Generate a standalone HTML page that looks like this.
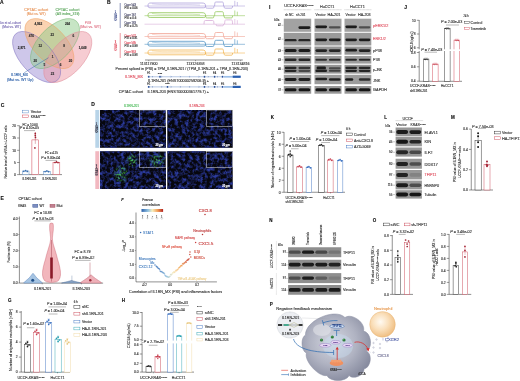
<!DOCTYPE html>
<html><head><meta charset="utf-8"><style>
html,body{margin:0;padding:0;background:#fff;}
svg{display:block;font-family:"Liberation Sans", Arial, sans-serif;}
</style></head><body>
<svg width="520" height="381" viewBox="0 0 520 381">
<rect width="520" height="381" fill="#fff"/>
<defs>
<filter id="bl" x="-20%" y="-50%" width="140%" height="200%"><feGaussianBlur stdDeviation="0.6"/></filter>
<filter id="bl2" x="-20%" y="-80%" width="140%" height="260%"><feGaussianBlur stdDeviation="0.5"/></filter>
<filter id="noiseB" x="0" y="0" width="100%" height="100%" color-interpolation-filters="sRGB">
  <feTurbulence type="fractalNoise" baseFrequency="0.28" numOctaves="3" seed="5" result="n"/>
  <feColorMatrix in="n" type="matrix" values="0 0 0 0 0.17  0 0 0 0 0.23  0 0 0 0 0.62  2.8 0 0 0 -1.12" result="c0"/><feGaussianBlur in="c0" stdDeviation="0.3" result="c"/>
  <feComposite in="c" in2="SourceGraphic" operator="in"/>
</filter>
<filter id="noiseB2" x="0" y="0" width="100%" height="100%" color-interpolation-filters="sRGB">
  <feTurbulence type="fractalNoise" baseFrequency="0.28" numOctaves="3" seed="12" result="n"/>
  <feColorMatrix in="n" type="matrix" values="0 0 0 0 0.17  0 0 0 0 0.23  0 0 0 0 0.62  2.8 0 0 0 -1.12" result="c0"/><feGaussianBlur in="c0" stdDeviation="0.3" result="c"/>
  <feComposite in="c" in2="SourceGraphic" operator="in"/>
</filter>
<filter id="noiseG" x="0" y="0" width="100%" height="100%" color-interpolation-filters="sRGB">
  <feTurbulence type="fractalNoise" baseFrequency="0.5" numOctaves="2" seed="7" result="n"/>
  <feColorMatrix in="n" type="matrix" values="0 0 0 0 0.35  0 0 0 0 0.90  0 0 0 0 0.40  4 0 0 0 -1.7" result="c"/>
  <feComposite in="c" in2="SourceGraphic" operator="in"/>
</filter>
<radialGradient id="gmask"><stop offset="0" stop-color="#fff" stop-opacity="1"/><stop offset="0.6" stop-color="#fff" stop-opacity="0.7"/><stop offset="1" stop-color="#fff" stop-opacity="0"/></radialGradient>
<linearGradient id="cb" x1="0" x2="1" y1="0" y2="0">
<stop offset="0" stop-color="#2b5fa8"/><stop offset="0.3" stop-color="#8fc0e0"/><stop offset="0.5" stop-color="#f7f0c0"/><stop offset="0.75" stop-color="#f29a50"/><stop offset="1" stop-color="#b02020"/>
</linearGradient>
<radialGradient id="neu" cx="0.42" cy="0.4" r="0.62"><stop offset="0" stop-color="#fffaf2"/><stop offset="0.5" stop-color="#fae0bc"/><stop offset="1" stop-color="#efbd80"/></radialGradient>
<radialGradient id="cell" cx="0.45" cy="0.42" r="0.62"><stop offset="0" stop-color="#d4d7e0"/><stop offset="0.55" stop-color="#b0b3c2"/><stop offset="1" stop-color="#868a9e"/></radialGradient>
</defs>

<text x="0.00" y="4.30" font-size="5" fill="#111" stroke="#111" stroke-width="0.12" font-weight="bold">A</text>
<ellipse cx="36.60" cy="57.00" rx="31.20" ry="16.00" fill="#9d8fd6" transform="rotate(48 36.60 57.00)" fill-opacity="0.5"/>
<ellipse cx="49.40" cy="43.60" rx="31.00" ry="16.30" fill="#f6a765" transform="rotate(46 49.40 43.60)" fill-opacity="0.5"/>
<ellipse cx="55.00" cy="43.60" rx="31.00" ry="16.30" fill="#8fcb8c" transform="rotate(-46 55.00 43.60)" fill-opacity="0.5"/>
<ellipse cx="67.80" cy="57.00" rx="31.20" ry="16.00" fill="#ee9aa6" transform="rotate(-48 67.80 57.00)" fill-opacity="0.5"/>
<ellipse cx="36.60" cy="57.00" rx="31.20" ry="16.00" fill="none" stroke="#7f70c0" stroke-width="0.5" transform="rotate(48 36.60 57.00)"/>
<ellipse cx="49.40" cy="43.60" rx="31.00" ry="16.30" fill="none" stroke="#f0a060" stroke-width="0.5" transform="rotate(46 49.40 43.60)"/>
<ellipse cx="55.00" cy="43.60" rx="31.00" ry="16.30" fill="none" stroke="#79b676" stroke-width="0.5" transform="rotate(-46 55.00 43.60)"/>
<ellipse cx="67.80" cy="57.00" rx="31.20" ry="16.00" fill="none" stroke="#e08b98" stroke-width="0.5" transform="rotate(-48 67.80 57.00)"/>
<text x="38.30" y="25.30" font-size="3.1" fill="#2a2a2a" stroke="#2a2a2a" stroke-width="0.12" text-anchor="middle" font-weight="bold">4,962</text>
<text x="67.50" y="24.90" font-size="3.1" fill="#2a2a2a" stroke="#2a2a2a" stroke-width="0.12" text-anchor="middle" font-weight="bold">264</text>
<text x="31.30" y="37.30" font-size="3.1" fill="#2a2a2a" stroke="#2a2a2a" stroke-width="0.12" text-anchor="middle" font-weight="bold">476</text>
<text x="52.20" y="35.70" font-size="3.1" fill="#2a2a2a" stroke="#2a2a2a" stroke-width="0.12" text-anchor="middle" font-weight="bold">23</text>
<text x="73.40" y="37.30" font-size="3.1" fill="#2a2a2a" stroke="#2a2a2a" stroke-width="0.12" text-anchor="middle" font-weight="bold">6</text>
<text x="21.70" y="49.10" font-size="3.1" fill="#2a2a2a" stroke="#2a2a2a" stroke-width="0.12" text-anchor="middle" font-weight="bold">2,871</text>
<text x="40.20" y="46.80" font-size="3.1" fill="#2a2a2a" stroke="#2a2a2a" stroke-width="0.12" text-anchor="middle" font-weight="bold">12</text>
<text x="64.20" y="47.30" font-size="3.1" fill="#2a2a2a" stroke="#2a2a2a" stroke-width="0.12" text-anchor="middle" font-weight="bold">8</text>
<text x="82.50" y="49.10" font-size="3.1" fill="#2a2a2a" stroke="#2a2a2a" stroke-width="0.12" text-anchor="middle" font-weight="bold">1,649</text>
<text x="52.60" y="57.60" font-size="3.1" fill="#2a2a2a" stroke="#2a2a2a" stroke-width="0.12" text-anchor="middle" font-weight="bold">1</text>
<text x="35.20" y="62.30" font-size="3.1" fill="#2a2a2a" stroke="#2a2a2a" stroke-width="0.12" text-anchor="middle" font-weight="bold">20</text>
<text x="44.30" y="66.40" font-size="3.1" fill="#2a2a2a" stroke="#2a2a2a" stroke-width="0.12" text-anchor="middle" font-weight="bold">5</text>
<text x="60.50" y="66.40" font-size="3.1" fill="#2a2a2a" stroke="#2a2a2a" stroke-width="0.12" text-anchor="middle" font-weight="bold">6</text>
<text x="70.60" y="62.30" font-size="3.1" fill="#2a2a2a" stroke="#2a2a2a" stroke-width="0.12" text-anchor="middle" font-weight="bold">20</text>
<text x="52.60" y="75.00" font-size="3.1" fill="#2a2a2a" stroke="#2a2a2a" stroke-width="0.12" text-anchor="middle" font-weight="bold">23</text>
<text x="36.20" y="11.07" font-size="3.77" fill="#e8955a" stroke="#e8955a" stroke-width="0.12" text-anchor="middle" textLength="24" lengthAdjust="spacingAndGlyphs">CPTAC cohort</text>
<text x="36.20" y="14.61" font-size="3.32" fill="#e8955a" stroke="#e8955a" stroke-width="0.12" text-anchor="middle" textLength="19" lengthAdjust="spacingAndGlyphs">(Mut vs. WT)</text>
<text x="67.50" y="11.07" font-size="3.77" fill="#5fa860" stroke="#5fa860" stroke-width="0.12" text-anchor="middle" textLength="24" lengthAdjust="spacingAndGlyphs">CPTAC cohort</text>
<text x="67.50" y="14.66" font-size="3.48" fill="#5fa860" stroke="#5fa860" stroke-width="0.12" text-anchor="middle" textLength="24" lengthAdjust="spacingAndGlyphs">(AS index_319)</text>
<text x="10.40" y="24.12" font-size="3.07" fill="#7a6db5" stroke="#7a6db5" stroke-width="0.12" text-anchor="middle" textLength="21" lengthAdjust="spacingAndGlyphs">Lin et al. cohort</text>
<text x="11.50" y="27.67" font-size="3.23" fill="#7a6db5" stroke="#7a6db5" stroke-width="0.12" text-anchor="middle" textLength="18.5" lengthAdjust="spacingAndGlyphs">(Mut vs. WT)</text>
<text x="88.10" y="23.59" font-size="2.7" fill="#e0788a" stroke="#e0788a" stroke-width="0.12" text-anchor="middle" textLength="6" lengthAdjust="spacingAndGlyphs">POG</text>
<text x="90.60" y="27.83" font-size="3.67" fill="#e0788a" stroke="#e0788a" stroke-width="0.12" text-anchor="middle" textLength="21" lengthAdjust="spacingAndGlyphs">(Mut vs. WT)</text>
<text x="19.50" y="76.26" font-size="3.48" fill="#2b5fa8" stroke="#2b5fa8" stroke-width="0.12" text-anchor="middle" textLength="17" lengthAdjust="spacingAndGlyphs">IL1RN_MX</text>
<text x="20.20" y="80.53" font-size="3.65" fill="#2b5fa8" stroke="#2b5fa8" stroke-width="0.12" text-anchor="middle" textLength="26.5" lengthAdjust="spacingAndGlyphs">(Mut vs. WT Up)</text>
<line x1="24.20" y1="72.70" x2="48.50" y2="57.70" stroke="#2b5fa8" stroke-width="0.45"/>
<text x="107.00" y="3.60" font-size="5" fill="#111" stroke="#111" stroke-width="0.12" font-weight="bold">B</text>
<line x1="120.20" y1="3.00" x2="120.20" y2="28.00" stroke="#3a4a8a" stroke-width="0.6"/>
<line x1="120.20" y1="33.00" x2="120.20" y2="58.00" stroke="#e05060" stroke-width="0.6"/>
<text x="116.50" y="15.50" font-size="2.8" fill="#3a4a8a" stroke="#3a4a8a" stroke-width="0.12" text-anchor="middle" transform="rotate(-90 116.50 15.50)">KRAS<tspan font-size="2" dy="-1">WT</tspan></text>
<text x="116.50" y="45.50" font-size="2.8" fill="#e05060" stroke="#e05060" stroke-width="0.12" text-anchor="middle" transform="rotate(-90 116.50 45.50)">KRAS<tspan font-size="2" dy="-1">Mut</tspan></text>
<text x="124.40" y="6.10" font-size="2.71" fill="#4a4a6a" stroke="#4a4a6a" stroke-width="0.12" textLength="11.6" lengthAdjust="spacingAndGlyphs">Case 543</text>
<text x="124.40" y="8.95" font-size="2.83" fill="#333" stroke="#333" stroke-width="0.12" textLength="13.3" lengthAdjust="spacingAndGlyphs">PSI = 0.06</text>
<line x1="144.50" y1="6.00" x2="245.00" y2="6.00" stroke="#a99bd9" stroke-width="0.55"/>
<path d="M148,6.0 C148,3.0 149,3.0 152,3.0 L202,3.0 C205,3.0 205.5,4.0 205.5,6.0 C205.5,7.8 205,7.8 202,7.8 L152,7.8 C149,7.8 148,7.8 148,6.0 Z" fill="none" stroke="#a99bd9" stroke-width="0.75"/>
<path d="M152,3.8 C165,5.8 180,3.5 200,5.0" fill="none" stroke="#a99bd9" stroke-width="0.4"/>
<path d="M205.6,6.0 C205.9,8.2 205.9,8.2 207.4,8.2 L212.2,8.2 C213.7,8.2 213.7,8.2 214,6.0" fill="none" stroke="#a99bd9" stroke-width="0.75"/>
<path d="M214.6,6.0 C214.9,2.0 214.9,2.0 216.4,2.0 L221.79999999999998,2.0 C223.29999999999998,2.0 223.29999999999998,2.0 223.6,6.0" fill="none" stroke="#a99bd9" stroke-width="0.75"/>
<path d="M224,6.0 C224.3,8.2 224.3,8.2 225.8,8.2 L230.79999999999998,8.2 C232.29999999999998,8.2 232.29999999999998,8.2 232.6,6.0" fill="none" stroke="#a99bd9" stroke-width="0.75"/>
<line x1="234.80" y1="6.00" x2="234.80" y2="0.80" stroke="#a99bd9" stroke-width="0.6"/>
<line x1="237.30" y1="6.00" x2="237.30" y2="2.00" stroke="#a99bd9" stroke-width="0.6"/>
<text x="124.40" y="15.80" font-size="2.71" fill="#4a4a6a" stroke="#4a4a6a" stroke-width="0.12" textLength="11.6" lengthAdjust="spacingAndGlyphs">Case 167</text>
<text x="124.40" y="18.67" font-size="2.9" fill="#333" stroke="#333" stroke-width="0.12" textLength="12" lengthAdjust="spacingAndGlyphs">PSI = 0.6</text>
<line x1="144.50" y1="15.70" x2="245.00" y2="15.70" stroke="#8cc450" stroke-width="0.55"/>
<path d="M148,15.7 C148,12.7 149,12.7 152,12.7 L202,12.7 C205,12.7 205.5,13.7 205.5,15.7 C205.5,17.5 205,17.5 202,17.5 L152,17.5 C149,17.5 148,17.5 148,15.7 Z" fill="none" stroke="#8cc450" stroke-width="0.75"/>
<path d="M152,13.5 C165,15.5 180,13.2 200,14.7" fill="none" stroke="#8cc450" stroke-width="0.4"/>
<path d="M205.6,15.7 C205.9,17.9 205.9,17.9 207.4,17.9 L212.2,17.9 C213.7,17.9 213.7,17.9 214,15.7" fill="none" stroke="#8cc450" stroke-width="0.75"/>
<path d="M214.6,15.7 C214.9,11.7 214.9,11.7 216.4,11.7 L221.79999999999998,11.7 C223.29999999999998,11.7 223.29999999999998,11.7 223.6,15.7" fill="none" stroke="#8cc450" stroke-width="0.75"/>
<path d="M224,15.7 C224.3,17.9 224.3,17.9 225.8,17.9 L230.79999999999998,17.9 C232.29999999999998,17.9 232.29999999999998,17.9 232.6,15.7" fill="none" stroke="#8cc450" stroke-width="0.75"/>
<line x1="234.80" y1="15.70" x2="234.80" y2="10.50" stroke="#8cc450" stroke-width="0.6"/>
<line x1="237.30" y1="15.70" x2="237.30" y2="11.70" stroke="#8cc450" stroke-width="0.6"/>
<text x="124.40" y="24.30" font-size="2.71" fill="#4a4a6a" stroke="#4a4a6a" stroke-width="0.12" textLength="11.6" lengthAdjust="spacingAndGlyphs">Case 183</text>
<text x="124.40" y="27.15" font-size="2.83" fill="#333" stroke="#333" stroke-width="0.12" textLength="13.3" lengthAdjust="spacingAndGlyphs">PSI = 0.25</text>
<line x1="144.50" y1="24.20" x2="245.00" y2="24.20" stroke="#d6a8d6" stroke-width="0.55"/>
<path d="M204,24.2 C204.3,20.5 204.3,20.5 205.8,20.5 L212.2,20.5 C213.7,20.5 213.7,20.5 214,24.2" fill="none" stroke="#d6a8d6" stroke-width="0.75"/>
<path d="M216,24.2 C216.3,25.8 216.3,25.8 217.8,25.8 L221.79999999999998,25.8 C223.29999999999998,25.8 223.29999999999998,25.8 223.6,24.2" fill="none" stroke="#d6a8d6" stroke-width="0.75"/>
<path d="M224.6,24.2 C224.9,19.9 224.9,19.9 226.4,19.9 L230.79999999999998,19.9 C232.29999999999998,19.9 232.29999999999998,19.9 232.6,24.2" fill="none" stroke="#d6a8d6" stroke-width="0.75"/>
<line x1="234.80" y1="24.20" x2="234.80" y2="19.00" stroke="#d6a8d6" stroke-width="0.6"/>
<line x1="237.30" y1="24.20" x2="237.30" y2="20.20" stroke="#d6a8d6" stroke-width="0.6"/>
<text x="124.40" y="36.60" font-size="2.71" fill="#e05060" stroke="#e05060" stroke-width="0.12" textLength="11.6" lengthAdjust="spacingAndGlyphs">Case 531</text>
<text x="124.40" y="39.45" font-size="2.83" fill="#333" stroke="#333" stroke-width="0.12" textLength="13.3" lengthAdjust="spacingAndGlyphs">PSI = 0.91</text>
<line x1="144.50" y1="36.50" x2="245.00" y2="36.50" stroke="#f0a090" stroke-width="0.55"/>
<path d="M148,36.5 C148,33.5 149,33.5 152,33.5 L202,33.5 C205,33.5 205.5,34.5 205.5,36.5 C205.5,38.3 205,38.3 202,38.3 L152,38.3 C149,38.3 148,38.3 148,36.5 Z" fill="none" stroke="#f0a090" stroke-width="0.75"/>
<path d="M152,34.3 C165,36.3 180,34.0 200,35.5" fill="none" stroke="#f0a090" stroke-width="0.4"/>
<path d="M205.6,36.5 C205.9,38.7 205.9,38.7 207.4,38.7 L212.2,38.7 C213.7,38.7 213.7,38.7 214,36.5" fill="none" stroke="#f0a090" stroke-width="0.75"/>
<path d="M214.6,36.5 C214.9,32.5 214.9,32.5 216.4,32.5 L221.79999999999998,32.5 C223.29999999999998,32.5 223.29999999999998,32.5 223.6,36.5" fill="none" stroke="#f0a090" stroke-width="0.75"/>
<path d="M224,36.5 C224.3,38.7 224.3,38.7 225.8,38.7 L230.79999999999998,38.7 C232.29999999999998,38.7 232.29999999999998,38.7 232.6,36.5" fill="none" stroke="#f0a090" stroke-width="0.75"/>
<line x1="234.80" y1="36.50" x2="234.80" y2="31.30" stroke="#f0a090" stroke-width="0.6"/>
<line x1="237.30" y1="36.50" x2="237.30" y2="32.50" stroke="#f0a090" stroke-width="0.6"/>
<text x="124.40" y="44.40" font-size="2.71" fill="#e05060" stroke="#e05060" stroke-width="0.12" textLength="11.6" lengthAdjust="spacingAndGlyphs">Case 595</text>
<text x="124.40" y="47.25" font-size="2.83" fill="#333" stroke="#333" stroke-width="0.12" textLength="13.3" lengthAdjust="spacingAndGlyphs">PSI = 0.99</text>
<line x1="144.50" y1="44.30" x2="245.00" y2="44.30" stroke="#4a8fc2" stroke-width="0.55"/>
<path d="M148,44.3 C148,41.3 149,41.3 152,41.3 L202,41.3 C205,41.3 205.5,42.3 205.5,44.3 C205.5,46.099999999999994 205,46.099999999999994 202,46.099999999999994 L152,46.099999999999994 C149,46.099999999999994 148,46.099999999999994 148,44.3 Z" fill="none" stroke="#4a8fc2" stroke-width="0.75"/>
<path d="M152,42.099999999999994 C165,44.099999999999994 180,41.8 200,43.3" fill="none" stroke="#4a8fc2" stroke-width="0.4"/>
<path d="M205.6,44.3 C205.9,46.5 205.9,46.5 207.4,46.5 L212.2,46.5 C213.7,46.5 213.7,46.5 214,44.3" fill="none" stroke="#4a8fc2" stroke-width="0.75"/>
<path d="M214.6,44.3 C214.9,40.3 214.9,40.3 216.4,40.3 L221.79999999999998,40.3 C223.29999999999998,40.3 223.29999999999998,40.3 223.6,44.3" fill="none" stroke="#4a8fc2" stroke-width="0.75"/>
<path d="M224,44.3 C224.3,46.5 224.3,46.5 225.8,46.5 L230.79999999999998,46.5 C232.29999999999998,46.5 232.29999999999998,46.5 232.6,44.3" fill="none" stroke="#4a8fc2" stroke-width="0.75"/>
<line x1="234.80" y1="44.30" x2="234.80" y2="39.10" stroke="#4a8fc2" stroke-width="0.6"/>
<line x1="237.30" y1="44.30" x2="237.30" y2="40.30" stroke="#4a8fc2" stroke-width="0.6"/>
<text x="124.40" y="53.10" font-size="2.71" fill="#e05060" stroke="#e05060" stroke-width="0.12" textLength="11.6" lengthAdjust="spacingAndGlyphs">Case 953</text>
<text x="124.40" y="55.95" font-size="2.83" fill="#333" stroke="#333" stroke-width="0.12" textLength="13.3" lengthAdjust="spacingAndGlyphs">PSI = 0.98</text>
<line x1="144.50" y1="53.00" x2="245.00" y2="53.00" stroke="#f2b248" stroke-width="0.55"/>
<path d="M148,53.0 C148,50.0 149,50.0 152,50.0 L202,50.0 C205,50.0 205.5,51.0 205.5,53.0 C205.5,54.8 205,54.8 202,54.8 L152,54.8 C149,54.8 148,54.8 148,53.0 Z" fill="none" stroke="#f2b248" stroke-width="0.75"/>
<path d="M152,50.8 C165,52.8 180,50.5 200,52.0" fill="none" stroke="#f2b248" stroke-width="0.4"/>
<path d="M205.6,53.0 C205.9,55.2 205.9,55.2 207.4,55.2 L212.2,55.2 C213.7,55.2 213.7,55.2 214,53.0" fill="none" stroke="#f2b248" stroke-width="0.75"/>
<path d="M214.6,53.0 C214.9,49.0 214.9,49.0 216.4,49.0 L221.79999999999998,49.0 C223.29999999999998,49.0 223.29999999999998,49.0 223.6,53.0" fill="none" stroke="#f2b248" stroke-width="0.75"/>
<path d="M224,53.0 C224.3,55.2 224.3,55.2 225.8,55.2 L230.79999999999998,55.2 C232.29999999999998,55.2 232.29999999999998,55.2 232.6,53.0" fill="none" stroke="#f2b248" stroke-width="0.75"/>
<line x1="234.80" y1="53.00" x2="234.80" y2="47.80" stroke="#f2b248" stroke-width="0.6"/>
<line x1="237.30" y1="53.00" x2="237.30" y2="49.00" stroke="#f2b248" stroke-width="0.6"/>
<line x1="145.00" y1="60.00" x2="242.80" y2="60.00" stroke="#444" stroke-width="0.6"/>
<line x1="148.75" y1="60.00" x2="148.75" y2="61.20" stroke="#333" stroke-width="0.4"/>
<line x1="195.50" y1="60.00" x2="195.50" y2="61.20" stroke="#333" stroke-width="0.4"/>
<line x1="240.60" y1="60.00" x2="240.60" y2="61.20" stroke="#333" stroke-width="0.4"/>
<text x="148.75" y="64.95" font-size="3.6" fill="#333" stroke="#333" stroke-width="0.12" text-anchor="middle" textLength="17.5" lengthAdjust="spacingAndGlyphs">113117900</text>
<text x="195.50" y="64.97" font-size="3.65" fill="#333" stroke="#333" stroke-width="0.12" text-anchor="middle" textLength="18" lengthAdjust="spacingAndGlyphs">113126358</text>
<text x="240.60" y="64.97" font-size="3.65" fill="#333" stroke="#333" stroke-width="0.12" text-anchor="middle" textLength="18" lengthAdjust="spacingAndGlyphs">113134816</text>
<text x="115.60" y="70.45" font-size="3.61" fill="#333" stroke="#333" stroke-width="0.12" textLength="132.3" lengthAdjust="spacingAndGlyphs">Percent spliced in (PSI) = TPM_IL1RN-201 / (TPM_IL1RN-201 + TPM_IL1RN-203)</text>
<line x1="147.50" y1="76.75" x2="240.70" y2="76.75" stroke="#7a9ad0" stroke-width="0.55"/>
<text x="148.75" y="74.40" font-size="2.62" fill="#333" stroke="#333" stroke-width="0.12" text-anchor="middle" textLength="3.2" lengthAdjust="spacingAndGlyphs">E1</text>
<text x="160.00" y="74.35" font-size="2.47" fill="#333" stroke="#333" stroke-width="0.12" text-anchor="middle" textLength="4.4" lengthAdjust="spacingAndGlyphs">E2a</text>
<text x="204.50" y="74.40" font-size="2.62" fill="#333" stroke="#333" stroke-width="0.12" text-anchor="middle" textLength="3.2" lengthAdjust="spacingAndGlyphs">E3</text>
<text x="214.60" y="74.40" font-size="2.62" fill="#333" stroke="#333" stroke-width="0.12" text-anchor="middle" textLength="3.2" lengthAdjust="spacingAndGlyphs">E4</text>
<text x="222.50" y="74.40" font-size="2.62" fill="#333" stroke="#333" stroke-width="0.12" text-anchor="middle" textLength="3.2" lengthAdjust="spacingAndGlyphs">E5</text>
<text x="234.80" y="74.40" font-size="2.62" fill="#333" stroke="#333" stroke-width="0.12" text-anchor="middle" textLength="3.2" lengthAdjust="spacingAndGlyphs">E6</text>
<rect x="148.05" y="75.85" width="1.40" height="1.80" fill="#2a4f9a"/>
<rect x="159.30" y="75.85" width="1.40" height="1.80" fill="#2a4f9a"/>
<rect x="203.80" y="75.85" width="1.40" height="1.80" fill="#2a4f9a"/>
<rect x="213.90" y="75.85" width="1.40" height="1.80" fill="#2a4f9a"/>
<rect x="221.80" y="75.85" width="1.40" height="1.80" fill="#2a4f9a"/>
<rect x="224.00" y="75.95" width="8.70" height="1.60" fill="#9cc0ea"/>
<rect x="232.70" y="75.65" width="8.00" height="2.20" fill="#2a5fb0"/>
<path d="M152.0,76.15 l0.9,0.6 l-0.9,0.6" fill="none" stroke="#2a4f9a" stroke-width="0.3"/>
<path d="M161.3,76.15 l0.9,0.6 l-0.9,0.6" fill="none" stroke="#2a4f9a" stroke-width="0.3"/>
<path d="M170.6,76.15 l0.9,0.6 l-0.9,0.6" fill="none" stroke="#2a4f9a" stroke-width="0.3"/>
<path d="M179.9,76.15 l0.9,0.6 l-0.9,0.6" fill="none" stroke="#2a4f9a" stroke-width="0.3"/>
<path d="M189.2,76.15 l0.9,0.6 l-0.9,0.6" fill="none" stroke="#2a4f9a" stroke-width="0.3"/>
<path d="M198.5,76.15 l0.9,0.6 l-0.9,0.6" fill="none" stroke="#2a4f9a" stroke-width="0.3"/>
<path d="M207.8,76.15 l0.9,0.6 l-0.9,0.6" fill="none" stroke="#2a4f9a" stroke-width="0.3"/>
<path d="M217.10000000000002,76.15 l0.9,0.6 l-0.9,0.6" fill="none" stroke="#2a4f9a" stroke-width="0.3"/>
<line x1="147.50" y1="86.90" x2="240.70" y2="86.90" stroke="#7a9ad0" stroke-width="0.55"/>
<text x="148.75" y="84.50" font-size="2.62" fill="#333" stroke="#333" stroke-width="0.12" text-anchor="middle" textLength="3.2" lengthAdjust="spacingAndGlyphs">E1</text>
<text x="167.50" y="84.45" font-size="2.47" fill="#333" stroke="#333" stroke-width="0.12" text-anchor="middle" textLength="4.4" lengthAdjust="spacingAndGlyphs">E2b</text>
<text x="204.50" y="84.50" font-size="2.62" fill="#333" stroke="#333" stroke-width="0.12" text-anchor="middle" textLength="3.2" lengthAdjust="spacingAndGlyphs">E3</text>
<text x="214.60" y="84.50" font-size="2.62" fill="#333" stroke="#333" stroke-width="0.12" text-anchor="middle" textLength="3.2" lengthAdjust="spacingAndGlyphs">E4</text>
<text x="222.50" y="84.50" font-size="2.62" fill="#333" stroke="#333" stroke-width="0.12" text-anchor="middle" textLength="3.2" lengthAdjust="spacingAndGlyphs">E5</text>
<text x="234.80" y="84.50" font-size="2.62" fill="#333" stroke="#333" stroke-width="0.12" text-anchor="middle" textLength="3.2" lengthAdjust="spacingAndGlyphs">E6</text>
<rect x="148.05" y="86.00" width="1.40" height="1.80" fill="#2a4f9a"/>
<rect x="166.80" y="86.00" width="1.40" height="1.80" fill="#2a4f9a"/>
<rect x="203.80" y="86.00" width="1.40" height="1.80" fill="#2a4f9a"/>
<rect x="213.90" y="86.00" width="1.40" height="1.80" fill="#2a4f9a"/>
<rect x="221.80" y="86.00" width="1.40" height="1.80" fill="#2a4f9a"/>
<rect x="224.00" y="86.10" width="8.70" height="1.60" fill="#9cc0ea"/>
<rect x="232.70" y="85.80" width="8.00" height="2.20" fill="#2a5fb0"/>
<path d="M152.0,86.30000000000001 l0.9,0.6 l-0.9,0.6" fill="none" stroke="#2a4f9a" stroke-width="0.3"/>
<path d="M161.3,86.30000000000001 l0.9,0.6 l-0.9,0.6" fill="none" stroke="#2a4f9a" stroke-width="0.3"/>
<path d="M170.6,86.30000000000001 l0.9,0.6 l-0.9,0.6" fill="none" stroke="#2a4f9a" stroke-width="0.3"/>
<path d="M179.9,86.30000000000001 l0.9,0.6 l-0.9,0.6" fill="none" stroke="#2a4f9a" stroke-width="0.3"/>
<path d="M189.2,86.30000000000001 l0.9,0.6 l-0.9,0.6" fill="none" stroke="#2a4f9a" stroke-width="0.3"/>
<path d="M198.5,86.30000000000001 l0.9,0.6 l-0.9,0.6" fill="none" stroke="#2a4f9a" stroke-width="0.3"/>
<path d="M207.8,86.30000000000001 l0.9,0.6 l-0.9,0.6" fill="none" stroke="#2a4f9a" stroke-width="0.3"/>
<path d="M217.10000000000002,86.30000000000001 l0.9,0.6 l-0.9,0.6" fill="none" stroke="#2a4f9a" stroke-width="0.3"/>
<text x="134.00" y="78.14" font-size="3.68" fill="#e05060" stroke="#e05060" stroke-width="0.12" text-anchor="middle" textLength="18" lengthAdjust="spacingAndGlyphs">IL1RN_MX</text>
<text x="148.00" y="81.70" font-size="3.75" fill="#333" stroke="#333" stroke-width="0.12" textLength="61" lengthAdjust="spacingAndGlyphs">IL1RN-201 (ENST00000259206.9) +</text>
<text x="118.75" y="92.50" font-size="3.83" fill="#333" stroke="#333" stroke-width="0.12" textLength="24.4" lengthAdjust="spacingAndGlyphs">CPTAC cohort</text>
<text x="147.50" y="92.52" font-size="3.78" fill="#333" stroke="#333" stroke-width="0.12" textLength="61.5" lengthAdjust="spacingAndGlyphs">IL1RN-203 (ENST00000361779.7) +</text>
<text x="268.90" y="8.80" font-size="5" fill="#111" stroke="#111" stroke-width="0.12" font-weight="bold">I</text>
<rect x="283.80" y="18.70" width="27.40" height="13.10" fill="#a2a2a2"/>
<rect x="298.46" y="26.31" width="11.78" height="2.60" rx="1.30" fill="rgb(26,26,26)" filter="url(#bl2)"/>
<rect x="314.50" y="18.70" width="27.00" height="13.10" fill="#a2a2a2"/>
<rect x="315.44" y="25.42" width="11.61" height="2.80" rx="1.40" fill="rgb(26,26,26)" filter="url(#bl2)"/>
<rect x="328.94" y="26.25" width="11.61" height="2.20" rx="1.10" fill="rgb(78,78,78)" filter="url(#bl2)"/>
<rect x="344.50" y="18.70" width="26.80" height="13.10" fill="#a2a2a2"/>
<rect x="345.44" y="25.42" width="11.52" height="2.80" rx="1.40" fill="rgb(26,26,26)" filter="url(#bl2)"/>
<rect x="358.84" y="26.25" width="11.52" height="2.20" rx="1.10" fill="rgb(78,78,78)" filter="url(#bl2)"/>
<text x="373.10" y="26.92" font-size="3.8" fill="#e05060" stroke="#e05060" stroke-width="0.12" textLength="15.2" lengthAdjust="spacingAndGlyphs">pERK1/2</text>
<text x="281.00" y="26.35" font-size="2.8" fill="#333" stroke="#333" stroke-width="0.12" text-anchor="end">42</text>
<line x1="281.60" y1="25.25" x2="283.40" y2="25.25" stroke="#333" stroke-width="0.3"/>
<rect x="283.80" y="32.80" width="27.40" height="12.70" fill="#9a9a9a"/>
<rect x="284.76" y="38.97" width="11.78" height="2.40" rx="1.20" fill="rgb(39,39,39)" filter="url(#bl2)"/>
<rect x="298.46" y="38.97" width="11.78" height="2.40" rx="1.20" fill="rgb(39,39,39)" filter="url(#bl2)"/>
<rect x="314.50" y="32.80" width="27.00" height="12.70" fill="#9a9a9a"/>
<rect x="315.44" y="38.38" width="11.61" height="2.80" rx="1.40" fill="rgb(26,26,26)" filter="url(#bl2)"/>
<rect x="328.94" y="38.38" width="11.61" height="2.80" rx="1.40" fill="rgb(26,26,26)" filter="url(#bl2)"/>
<rect x="344.50" y="32.80" width="26.80" height="12.70" fill="#9a9a9a"/>
<rect x="345.44" y="38.38" width="11.52" height="2.80" rx="1.40" fill="rgb(30,30,30)" filter="url(#bl2)"/>
<rect x="358.84" y="38.38" width="11.52" height="2.80" rx="1.40" fill="rgb(30,30,30)" filter="url(#bl2)"/>
<text x="373.10" y="40.27" font-size="3.66" fill="#e05060" stroke="#e05060" stroke-width="0.12" textLength="12.6" lengthAdjust="spacingAndGlyphs">ERK1/2</text>
<text x="281.00" y="40.25" font-size="2.8" fill="#333" stroke="#333" stroke-width="0.12" text-anchor="end">42</text>
<line x1="281.60" y1="39.15" x2="283.40" y2="39.15" stroke="#333" stroke-width="0.3"/>
<rect x="283.80" y="46.50" width="27.40" height="8.20" fill="#969696"/>
<rect x="284.76" y="49.10" width="11.78" height="3.00" rx="1.50" fill="rgb(26,26,26)" filter="url(#bl2)"/>
<rect x="298.46" y="49.10" width="11.78" height="3.00" rx="1.50" fill="rgb(30,30,30)" filter="url(#bl2)"/>
<rect x="314.50" y="46.50" width="27.00" height="8.20" fill="#969696"/>
<rect x="315.44" y="49.30" width="11.61" height="2.60" rx="1.30" fill="rgb(35,35,35)" filter="url(#bl2)"/>
<rect x="328.94" y="49.30" width="11.61" height="2.60" rx="1.30" fill="rgb(39,39,39)" filter="url(#bl2)"/>
<rect x="344.50" y="46.50" width="26.80" height="8.20" fill="#969696"/>
<rect x="345.44" y="48.79" width="11.52" height="2.80" rx="1.40" fill="rgb(26,26,26)" filter="url(#bl2)"/>
<rect x="358.84" y="49.30" width="11.52" height="2.60" rx="1.30" fill="rgb(35,35,35)" filter="url(#bl2)"/>
<text x="373.10" y="52.13" font-size="3.81" fill="#333" stroke="#333" stroke-width="0.12" textLength="8.9" lengthAdjust="spacingAndGlyphs">pP38</text>
<text x="281.00" y="51.70" font-size="2.8" fill="#333" stroke="#333" stroke-width="0.12" text-anchor="end">43</text>
<line x1="281.60" y1="50.60" x2="283.40" y2="50.60" stroke="#333" stroke-width="0.3"/>
<rect x="283.80" y="55.90" width="27.40" height="7.70" fill="#9c9c9c"/>
<rect x="284.76" y="58.55" width="11.78" height="2.40" rx="1.20" fill="rgb(39,39,39)" filter="url(#bl2)"/>
<rect x="298.46" y="58.55" width="11.78" height="2.40" rx="1.20" fill="rgb(39,39,39)" filter="url(#bl2)"/>
<rect x="314.50" y="55.90" width="27.00" height="7.70" fill="#9c9c9c"/>
<rect x="315.44" y="58.65" width="11.61" height="2.20" rx="1.10" fill="rgb(46,46,46)" filter="url(#bl2)"/>
<rect x="328.94" y="58.65" width="11.61" height="2.20" rx="1.10" fill="rgb(43,43,43)" filter="url(#bl2)"/>
<rect x="344.50" y="55.90" width="26.80" height="7.70" fill="#9c9c9c"/>
<rect x="345.44" y="58.65" width="11.52" height="2.20" rx="1.10" fill="rgb(39,39,39)" filter="url(#bl2)"/>
<rect x="358.84" y="58.65" width="11.52" height="2.20" rx="1.10" fill="rgb(39,39,39)" filter="url(#bl2)"/>
<text x="373.10" y="61.15" font-size="3.88" fill="#333" stroke="#333" stroke-width="0.12" textLength="6.9" lengthAdjust="spacingAndGlyphs">P38</text>
<text x="281.00" y="60.85" font-size="2.8" fill="#333" stroke="#333" stroke-width="0.12" text-anchor="end">43</text>
<line x1="281.60" y1="59.75" x2="283.40" y2="59.75" stroke="#333" stroke-width="0.3"/>
<rect x="283.80" y="64.80" width="27.40" height="8.80" fill="#959595"/>
<rect x="284.76" y="66.78" width="11.78" height="2.20" rx="1.10" fill="rgb(39,39,39)" filter="url(#bl2)"/>
<rect x="298.46" y="66.78" width="11.78" height="2.20" rx="1.10" fill="rgb(52,52,52)" filter="url(#bl2)"/>
<rect x="284.76" y="69.68" width="11.78" height="2.20" rx="1.10" fill="rgb(39,39,39)" filter="url(#bl2)"/>
<rect x="298.46" y="69.68" width="11.78" height="2.20" rx="1.10" fill="rgb(72,72,72)" filter="url(#bl2)"/>
<rect x="314.50" y="64.80" width="27.00" height="8.80" fill="#959595"/>
<rect x="316.52" y="66.58" width="9.45" height="2.60" rx="1.30" fill="rgb(26,26,26)" filter="url(#bl2)"/>
<rect x="328.94" y="67.14" width="11.61" height="2.00" rx="1.00" fill="rgb(72,72,72)" filter="url(#bl2)"/>
<rect x="315.44" y="69.58" width="11.61" height="2.40" rx="1.20" fill="rgb(33,33,33)" filter="url(#bl2)"/>
<rect x="328.94" y="69.78" width="11.61" height="2.00" rx="1.00" fill="rgb(65,65,65)" filter="url(#bl2)"/>
<rect x="344.50" y="64.80" width="26.80" height="8.80" fill="#959595"/>
<rect x="345.44" y="66.78" width="11.52" height="2.20" rx="1.10" fill="rgb(39,39,39)" filter="url(#bl2)"/>
<rect x="358.84" y="66.78" width="11.52" height="2.20" rx="1.10" fill="rgb(39,39,39)" filter="url(#bl2)"/>
<rect x="345.44" y="69.68" width="11.52" height="2.20" rx="1.10" fill="rgb(33,33,33)" filter="url(#bl2)"/>
<rect x="358.84" y="69.68" width="11.52" height="2.20" rx="1.10" fill="rgb(39,39,39)" filter="url(#bl2)"/>
<text x="373.10" y="70.91" font-size="3.2" fill="#333" stroke="#333" stroke-width="0.12" textLength="8.9" lengthAdjust="spacingAndGlyphs">p-JNK</text>
<text x="281.00" y="70.30" font-size="2.8" fill="#333" stroke="#333" stroke-width="0.12" text-anchor="end">46</text>
<line x1="281.60" y1="69.20" x2="283.40" y2="69.20" stroke="#333" stroke-width="0.3"/>
<rect x="283.80" y="74.80" width="27.40" height="9.40" fill="#9c9c9c"/>
<rect x="284.76" y="78.10" width="11.78" height="2.80" rx="1.40" fill="rgb(30,30,30)" filter="url(#bl2)"/>
<rect x="298.46" y="78.10" width="11.78" height="2.80" rx="1.40" fill="rgb(33,33,33)" filter="url(#bl2)"/>
<rect x="314.50" y="74.80" width="27.00" height="9.40" fill="#9c9c9c"/>
<rect x="315.44" y="77.73" width="11.61" height="2.60" rx="1.30" fill="rgb(33,33,33)" filter="url(#bl2)"/>
<rect x="328.94" y="78.20" width="11.61" height="2.60" rx="1.30" fill="rgb(35,35,35)" filter="url(#bl2)"/>
<rect x="344.50" y="74.80" width="26.80" height="9.40" fill="#9c9c9c"/>
<rect x="345.18" y="78.20" width="8.04" height="2.60" rx="1.30" fill="rgb(26,26,26)" filter="url(#bl2)"/>
<rect x="358.84" y="78.20" width="11.52" height="2.60" rx="1.30" fill="rgb(46,46,46)" filter="url(#bl2)"/>
<text x="373.10" y="81.67" font-size="3.92" fill="#333" stroke="#333" stroke-width="0.12" textLength="7.4" lengthAdjust="spacingAndGlyphs">JNK</text>
<text x="281.00" y="80.60" font-size="2.8" fill="#333" stroke="#333" stroke-width="0.12" text-anchor="end">46</text>
<line x1="281.60" y1="79.50" x2="283.40" y2="79.50" stroke="#333" stroke-width="0.3"/>
<rect x="283.80" y="86.00" width="27.40" height="7.70" fill="#989898"/>
<rect x="284.76" y="88.35" width="11.78" height="3.00" rx="1.50" fill="rgb(23,23,23)" filter="url(#bl2)"/>
<rect x="298.46" y="88.35" width="11.78" height="3.00" rx="1.50" fill="rgb(23,23,23)" filter="url(#bl2)"/>
<rect x="314.50" y="86.00" width="27.00" height="7.70" fill="#989898"/>
<rect x="315.44" y="88.35" width="11.61" height="3.00" rx="1.50" fill="rgb(23,23,23)" filter="url(#bl2)"/>
<rect x="328.94" y="88.35" width="11.61" height="3.00" rx="1.50" fill="rgb(23,23,23)" filter="url(#bl2)"/>
<rect x="344.50" y="86.00" width="26.80" height="7.70" fill="#989898"/>
<rect x="345.44" y="88.35" width="11.52" height="3.00" rx="1.50" fill="rgb(23,23,23)" filter="url(#bl2)"/>
<rect x="358.84" y="88.35" width="11.52" height="3.00" rx="1.50" fill="rgb(23,23,23)" filter="url(#bl2)"/>
<text x="373.10" y="91.34" font-size="3.85" fill="#333" stroke="#333" stroke-width="0.12" textLength="13.7" lengthAdjust="spacingAndGlyphs">GAPDH</text>
<text x="281.00" y="90.95" font-size="2.8" fill="#333" stroke="#333" stroke-width="0.12" text-anchor="end">37</text>
<line x1="281.60" y1="89.85" x2="283.40" y2="89.85" stroke="#333" stroke-width="0.3"/>
<text x="274.25" y="21.20" font-size="2.81" fill="#333" stroke="#333" stroke-width="0.12" textLength="5" lengthAdjust="spacingAndGlyphs">kDa</text>
<text x="284.25" y="7.20" font-size="3.9" fill="#333" stroke="#333" stroke-width="0.12">UCCF-KRAS<tspan font-size="2.5" dy="-1.4">G12D</tspan></text>
<text x="320.00" y="7.59" font-size="3.7" fill="#333" stroke="#333" stroke-width="0.12" textLength="14.4" lengthAdjust="spacingAndGlyphs">HuCCT1</text>
<text x="350.00" y="7.64" font-size="3.86" fill="#333" stroke="#333" stroke-width="0.12" textLength="15" lengthAdjust="spacingAndGlyphs">HuCCT1</text>
<line x1="283.80" y1="9.75" x2="311.20" y2="9.75" stroke="#888" stroke-width="0.45" stroke-dasharray="0.5 0.3"/>
<line x1="314.50" y1="9.75" x2="341.50" y2="9.75" stroke="#888" stroke-width="0.45" stroke-dasharray="0.5 0.3"/>
<line x1="344.50" y1="9.75" x2="371.30" y2="9.75" stroke="#888" stroke-width="0.45" stroke-dasharray="0.5 0.3"/>
<text x="284.90" y="16.08" font-size="3.13" fill="#333" stroke="#333" stroke-width="0.12" textLength="8.7" lengthAdjust="spacingAndGlyphs">sh NC</text>
<text x="296.10" y="16.08" font-size="3.13" fill="#333" stroke="#333" stroke-width="0.12" textLength="9.4" lengthAdjust="spacingAndGlyphs">sh 201</text>
<text x="315.60" y="16.23" font-size="3.53" fill="#333" stroke="#333" stroke-width="0.12" textLength="10" lengthAdjust="spacingAndGlyphs">Vector</text>
<text x="327.50" y="16.33" font-size="3.83" fill="#333" stroke="#333" stroke-width="0.12" textLength="13" lengthAdjust="spacingAndGlyphs">HA-201</text>
<text x="345.60" y="16.23" font-size="3.53" fill="#333" stroke="#333" stroke-width="0.12" textLength="10" lengthAdjust="spacingAndGlyphs">Vector</text>
<text x="358.00" y="16.29" font-size="3.72" fill="#333" stroke="#333" stroke-width="0.12" textLength="12.6" lengthAdjust="spacingAndGlyphs">HA-203</text>
<text x="404.20" y="8.60" font-size="5" fill="#111" stroke="#111" stroke-width="0.12" font-weight="bold">J</text>
<line x1="419.20" y1="20.00" x2="419.20" y2="49.30" stroke="#333" stroke-width="0.55"/>
<line x1="419.20" y1="51.00" x2="419.20" y2="81.30" stroke="#333" stroke-width="0.55"/>
<line x1="419.20" y1="81.30" x2="462.00" y2="81.30" stroke="#333" stroke-width="0.55"/>
<line x1="416.90" y1="20.30" x2="419.20" y2="20.30" stroke="#333" stroke-width="0.5"/>
<text x="415.70" y="21.55" font-size="3.3" fill="#333" stroke="#333" stroke-width="0.12" text-anchor="end">10</text>
<line x1="416.90" y1="34.00" x2="419.20" y2="34.00" stroke="#333" stroke-width="0.5"/>
<text x="415.70" y="35.25" font-size="3.3" fill="#333" stroke="#333" stroke-width="0.12" text-anchor="end">8</text>
<line x1="416.90" y1="47.80" x2="419.20" y2="47.80" stroke="#333" stroke-width="0.5"/>
<text x="415.70" y="49.05" font-size="3.3" fill="#333" stroke="#333" stroke-width="0.12" text-anchor="end">6</text>
<line x1="416.90" y1="52.50" x2="419.20" y2="52.50" stroke="#333" stroke-width="0.5"/>
<text x="415.70" y="53.75" font-size="3.3" fill="#333" stroke="#333" stroke-width="0.12" text-anchor="end">0.8</text>
<line x1="416.90" y1="66.80" x2="419.20" y2="66.80" stroke="#333" stroke-width="0.5"/>
<text x="415.70" y="68.05" font-size="3.3" fill="#333" stroke="#333" stroke-width="0.12" text-anchor="end">0.6</text>
<line x1="416.90" y1="81.20" x2="419.20" y2="81.20" stroke="#333" stroke-width="0.5"/>
<text x="415.70" y="82.45" font-size="3.3" fill="#333" stroke="#333" stroke-width="0.12" text-anchor="end">0.4</text>
<text x="412.76" y="41.60" font-size="2.88" fill="#333" stroke="#333" stroke-width="0.12" text-anchor="middle" textLength="20" lengthAdjust="spacingAndGlyphs" transform="rotate(-90 412.76 41.60)">CXCL8 (ng/mL)</text>
<rect x="423.30" y="59.00" width="5.60" height="22.30" fill="#fff" stroke="#222" stroke-width="0.45"/>
<circle cx="424.50" cy="59.20" r="0.55" fill="#111"/>
<circle cx="425.60" cy="59.60" r="0.55" fill="#111"/>
<circle cx="426.70" cy="59.20" r="0.55" fill="#111"/>
<circle cx="427.80" cy="59.60" r="0.55" fill="#111"/>
<line x1="424.30" y1="58.20" x2="427.90" y2="58.20" stroke="#222" stroke-width="0.3"/>
<rect x="432.50" y="64.00" width="5.60" height="17.30" fill="#fff" stroke="#d04050" stroke-width="0.45"/>
<circle cx="433.70" cy="64.20" r="0.55" fill="#c03040"/>
<circle cx="434.80" cy="64.60" r="0.55" fill="#c03040"/>
<circle cx="435.90" cy="64.20" r="0.55" fill="#c03040"/>
<circle cx="437.00" cy="64.60" r="0.55" fill="#c03040"/>
<line x1="433.50" y1="63.20" x2="437.10" y2="63.20" stroke="#d04050" stroke-width="0.3"/>
<rect x="444.50" y="28.30" width="5.60" height="53.00" fill="#fff" stroke="#222" stroke-width="0.45"/>
<circle cx="445.70" cy="28.50" r="0.55" fill="#111"/>
<circle cx="446.80" cy="28.90" r="0.55" fill="#111"/>
<circle cx="447.90" cy="28.50" r="0.55" fill="#111"/>
<circle cx="449.00" cy="28.90" r="0.55" fill="#111"/>
<line x1="445.50" y1="27.50" x2="449.10" y2="27.50" stroke="#222" stroke-width="0.3"/>
<rect x="454.00" y="40.00" width="5.60" height="41.30" fill="#fff" stroke="#d04050" stroke-width="0.45"/>
<circle cx="455.20" cy="40.20" r="0.55" fill="#c03040"/>
<circle cx="456.30" cy="40.60" r="0.55" fill="#c03040"/>
<circle cx="457.40" cy="40.20" r="0.55" fill="#c03040"/>
<circle cx="458.50" cy="40.60" r="0.55" fill="#c03040"/>
<line x1="455.00" y1="39.20" x2="458.60" y2="39.20" stroke="#d04050" stroke-width="0.3"/>
<rect x="420.00" y="49.30" width="45.00" height="1.70" fill="#fff"/>
<text x="431.80" y="51.29" font-size="3.7" fill="#333" stroke="#333" stroke-width="0.12" text-anchor="middle" textLength="21.2" lengthAdjust="spacingAndGlyphs"><tspan font-style="italic">P</tspan> = 7.40e-03</text>
<line x1="424.50" y1="52.20" x2="437.00" y2="52.20" stroke="#333" stroke-width="0.35"/>
<text x="451.60" y="23.29" font-size="3.71" fill="#333" stroke="#333" stroke-width="0.12" text-anchor="middle" textLength="21.3" lengthAdjust="spacingAndGlyphs"><tspan font-style="italic">P</tspan> = 2.00e-03</text>
<line x1="446.00" y1="25.00" x2="459.00" y2="25.00" stroke="#333" stroke-width="0.35"/>
<text x="463.60" y="17.48" font-size="2.57" fill="#333" stroke="#333" stroke-width="0.12" textLength="5" lengthAdjust="spacingAndGlyphs">24 h</text>
<rect x="464.20" y="21.20" width="5.00" height="2.50" fill="none" stroke="#222" stroke-width="0.4"/>
<text x="470.60" y="23.76" font-size="3.63" fill="#333" stroke="#333" stroke-width="0.12" textLength="11.7" lengthAdjust="spacingAndGlyphs">Control</text>
<rect x="464.20" y="27.20" width="5.00" height="2.50" fill="none" stroke="#d04050" stroke-width="0.4"/>
<text x="470.60" y="29.64" font-size="3.29" fill="#333" stroke="#333" stroke-width="0.12" textLength="15.4" lengthAdjust="spacingAndGlyphs">Trametinib</text>
<text x="410.00" y="87.20" font-size="3.4" fill="#333" stroke="#333" stroke-width="0.12">UCCF-KRAS<tspan font-size="2.2" dy="-1.2">G12D</tspan></text>
<text x="410.00" y="91.52" font-size="2.95" fill="#333" stroke="#333" stroke-width="0.12" textLength="17.4" lengthAdjust="spacingAndGlyphs">shIL1RN-201</text>
<text x="447.30" y="87.32" font-size="3.24" fill="#333" stroke="#333" stroke-width="0.12" text-anchor="middle" textLength="12.6" lengthAdjust="spacingAndGlyphs">HuCCT1</text>
<text x="0.80" y="106.80" font-size="5" fill="#111" stroke="#111" stroke-width="0.12" font-weight="bold">C</text>
<rect x="22.40" y="110.20" width="5.90" height="2.70" fill="none" stroke="#4a80c0" stroke-width="0.45"/>
<text x="30.70" y="113.10" font-size="3.74" fill="#333" stroke="#333" stroke-width="0.12" textLength="10.6" lengthAdjust="spacingAndGlyphs">Vector</text>
<rect x="22.40" y="115.00" width="5.90" height="2.70" fill="none" stroke="#d04050" stroke-width="0.45"/>
<text x="30.70" y="117.60" font-size="3.4" fill="#333" stroke="#333" stroke-width="0.12">KRAS<tspan font-size="2.2" dy="-1.2">G12D</tspan></text>
<line x1="19.40" y1="125.50" x2="19.40" y2="174.60" stroke="#333" stroke-width="0.55"/>
<line x1="19.40" y1="174.60" x2="62.00" y2="174.60" stroke="#333" stroke-width="0.55"/>
<line x1="17.10" y1="125.70" x2="19.40" y2="125.70" stroke="#333" stroke-width="0.5"/>
<text x="15.90" y="126.95" font-size="3.3" fill="#333" stroke="#333" stroke-width="0.12" text-anchor="end">20</text>
<line x1="17.10" y1="138.00" x2="19.40" y2="138.00" stroke="#333" stroke-width="0.5"/>
<text x="15.90" y="139.25" font-size="3.3" fill="#333" stroke="#333" stroke-width="0.12" text-anchor="end">15</text>
<line x1="17.10" y1="150.30" x2="19.40" y2="150.30" stroke="#333" stroke-width="0.5"/>
<text x="15.90" y="151.55" font-size="3.3" fill="#333" stroke="#333" stroke-width="0.12" text-anchor="end">10</text>
<line x1="17.10" y1="162.50" x2="19.40" y2="162.50" stroke="#333" stroke-width="0.5"/>
<text x="15.90" y="163.75" font-size="3.3" fill="#333" stroke="#333" stroke-width="0.12" text-anchor="end">5</text>
<line x1="17.10" y1="174.60" x2="19.40" y2="174.60" stroke="#333" stroke-width="0.5"/>
<text x="15.90" y="175.85" font-size="3.3" fill="#333" stroke="#333" stroke-width="0.12" text-anchor="end">0</text>
<text x="7.48" y="152.00" font-size="3.19" fill="#333" stroke="#333" stroke-width="0.12" text-anchor="middle" textLength="53" lengthAdjust="spacingAndGlyphs" transform="rotate(-90 7.48 152.00)">Relative level of mRNA in UCCF cells</text>
<rect x="22.40" y="171.00" width="6.60" height="3.60" fill="#fff" stroke="#4a80c0" stroke-width="0.45"/>
<circle cx="23.80" cy="171.30" r="0.85" fill="#3a70b0"/>
<circle cx="25.60" cy="170.60" r="0.85" fill="#3a70b0"/>
<circle cx="27.30" cy="171.40" r="0.85" fill="#3a70b0"/>
<rect x="31.90" y="139.90" width="6.80" height="34.70" fill="#fff" stroke="#d04050" stroke-width="0.5"/>
<circle cx="35.30" cy="133.40" r="0.85" fill="#a02030"/>
<circle cx="35.30" cy="135.40" r="0.85" fill="#a02030"/>
<circle cx="35.50" cy="137.40" r="0.85" fill="#a02030"/>
<circle cx="34.90" cy="147.90" r="0.85" fill="#a02030"/>
<line x1="35.30" y1="132.40" x2="35.30" y2="143.90" stroke="#a02030" stroke-width="0.35"/>
<rect x="43.70" y="171.30" width="6.60" height="3.30" fill="#fff" stroke="#4a80c0" stroke-width="0.45"/>
<circle cx="45.10" cy="171.60" r="0.85" fill="#3a70b0"/>
<circle cx="46.90" cy="170.90" r="0.85" fill="#3a70b0"/>
<circle cx="48.60" cy="171.70" r="0.85" fill="#3a70b0"/>
<rect x="53.00" y="162.30" width="6.80" height="12.30" fill="#fff" stroke="#d04050" stroke-width="0.5"/>
<circle cx="55.00" cy="162.50" r="0.85" fill="#a02030"/>
<circle cx="56.50" cy="161.90" r="0.85" fill="#a02030"/>
<circle cx="58.00" cy="162.60" r="0.85" fill="#a02030"/>
<text x="30.10" y="125.57" font-size="3.1" fill="#333" stroke="#333" stroke-width="0.12" text-anchor="middle" textLength="15.4" lengthAdjust="spacingAndGlyphs">FC = 10.60</text>
<text x="29.50" y="129.15" font-size="3.31" fill="#333" stroke="#333" stroke-width="0.12" text-anchor="middle" textLength="19" lengthAdjust="spacingAndGlyphs"><tspan font-style="italic">P</tspan> = 4.10e-05</text>
<line x1="24.00" y1="130.60" x2="35.00" y2="130.60" stroke="#333" stroke-width="0.35"/>
<text x="51.40" y="154.11" font-size="2.94" fill="#333" stroke="#333" stroke-width="0.12" text-anchor="middle" textLength="13" lengthAdjust="spacingAndGlyphs">FC = 4.15</text>
<text x="50.70" y="158.75" font-size="3.31" fill="#333" stroke="#333" stroke-width="0.12" text-anchor="middle" textLength="19" lengthAdjust="spacingAndGlyphs"><tspan font-style="italic">P</tspan> = 9.00e-04</text>
<line x1="45.50" y1="160.40" x2="57.00" y2="160.40" stroke="#333" stroke-width="0.35"/>
<text x="29.50" y="180.31" font-size="2.94" fill="#333" stroke="#333" stroke-width="0.12" text-anchor="middle" textLength="14.2" lengthAdjust="spacingAndGlyphs">IL1RN-201</text>
<text x="49.60" y="180.31" font-size="2.94" fill="#333" stroke="#333" stroke-width="0.12" text-anchor="middle" textLength="14.2" lengthAdjust="spacingAndGlyphs">IL1RN-203</text>
<text x="91.30" y="106.30" font-size="5" fill="#111" stroke="#111" stroke-width="0.12" font-weight="bold">D</text>
<text x="131.50" y="107.44" font-size="3.1" fill="#4cbb5a" stroke="#4cbb5a" stroke-width="0.12" text-anchor="middle" textLength="15" lengthAdjust="spacingAndGlyphs">IL1RN-201</text>
<text x="197.00" y="107.44" font-size="3.1" fill="#e05060" stroke="#e05060" stroke-width="0.12" text-anchor="middle" textLength="15" lengthAdjust="spacingAndGlyphs">IL1RN-203</text>
<rect x="95.30" y="110.00" width="3.90" height="37.80" fill="#b8d4e8"/>
<rect x="95.30" y="151.20" width="3.90" height="37.80" fill="#f2b8c0"/>
<text x="98.40" y="127.50" font-size="2.9" fill="#2a2a3a" stroke="#2a2a3a" stroke-width="0.12" text-anchor="middle" transform="rotate(-90 98.40 127.50)">KRAS<tspan font-size="2.1" dy="-1.1">WT</tspan></text>
<text x="98.40" y="170.00" font-size="2.9" fill="#2a2a3a" stroke="#2a2a3a" stroke-width="0.12" text-anchor="middle" transform="rotate(-90 98.40 170.00)">KRAS<tspan font-size="2.1" dy="-1.1">Mut</tspan></text>
<rect x="100.00" y="110.00" width="66.00" height="37.80" fill="#07070e"/>
<rect x="100.00" y="110.00" width="66.00" height="37.80" fill="#fff" filter="url(#noiseB)"/>
<rect x="139.60" y="110.00" width="26.40" height="16.50" fill="none" stroke="#e8e8e8" stroke-width="0.5"/>
<text x="163.00" y="145.60" font-size="2.6" fill="#fff" stroke="#fff" stroke-width="0.12" text-anchor="end" font-weight="bold">20 μm</text>
<line x1="158.50" y1="146.60" x2="161.50" y2="146.60" stroke="#fff" stroke-width="0.5"/>
<rect x="167.30" y="110.00" width="65.40" height="37.80" fill="#07070e"/>
<rect x="167.30" y="110.00" width="65.40" height="37.80" fill="#fff" filter="url(#noiseB2)"/>
<rect x="206.54" y="110.00" width="26.16" height="16.50" fill="none" stroke="#e8e8e8" stroke-width="0.5"/>
<text x="229.70" y="145.60" font-size="2.6" fill="#fff" stroke="#fff" stroke-width="0.12" text-anchor="end" font-weight="bold">20 μm</text>
<line x1="225.20" y1="146.60" x2="228.20" y2="146.60" stroke="#fff" stroke-width="0.5"/>
<rect x="100.00" y="151.20" width="66.00" height="37.80" fill="#07070e"/>
<rect x="100.00" y="151.20" width="66.00" height="37.80" fill="#fff" filter="url(#noiseB)"/>
<g opacity="0.75"><ellipse cx="121" cy="174.2" rx="8" ry="10" fill="url(#gmask)" filter="url(#noiseG)"/>
<ellipse cx="132" cy="160.2" rx="6" ry="7.5" fill="url(#gmask)" filter="url(#noiseG)"/>
<ellipse cx="157" cy="160.2" rx="9" ry="7.5" fill="url(#gmask)" filter="url(#noiseG)"/></g>
<rect x="139.60" y="151.20" width="26.40" height="16.50" fill="none" stroke="#e8e8e8" stroke-width="0.5"/>
<text x="163.00" y="186.80" font-size="2.6" fill="#fff" stroke="#fff" stroke-width="0.12" text-anchor="end" font-weight="bold">20 μm</text>
<line x1="158.50" y1="187.80" x2="161.50" y2="187.80" stroke="#fff" stroke-width="0.5"/>
<rect x="167.30" y="151.20" width="65.40" height="37.80" fill="#07070e"/>
<rect x="167.30" y="151.20" width="65.40" height="37.80" fill="#fff" filter="url(#noiseB2)"/>
<rect x="206.54" y="151.20" width="26.16" height="16.50" fill="none" stroke="#e8e8e8" stroke-width="0.5"/>
<text x="229.70" y="186.80" font-size="2.6" fill="#fff" stroke="#fff" stroke-width="0.12" text-anchor="end" font-weight="bold">20 μm</text>
<line x1="225.20" y1="187.80" x2="228.20" y2="187.80" stroke="#fff" stroke-width="0.5"/>
<text x="0.50" y="199.50" font-size="5" fill="#111" stroke="#111" stroke-width="0.12" font-weight="bold">E</text>
<text x="18.40" y="200.45" font-size="3.69" fill="#333" stroke="#333" stroke-width="0.12" textLength="23.5" lengthAdjust="spacingAndGlyphs">CPTAC cohort</text>
<text x="18.20" y="206.58" font-size="2.94" fill="#333" stroke="#333" stroke-width="0.12" textLength="8" lengthAdjust="spacingAndGlyphs">KRAS</text>
<rect x="32.80" y="204.30" width="5.00" height="3.00" fill="#7c8cc0" stroke="#3a5a98" stroke-width="0.45"/>
<text x="39.40" y="206.68" font-size="3.22" fill="#333" stroke="#333" stroke-width="0.12" textLength="5" lengthAdjust="spacingAndGlyphs">WT</text>
<rect x="50.00" y="204.30" width="5.00" height="3.00" fill="#c08090" stroke="#a04858" stroke-width="0.45"/>
<text x="56.40" y="206.86" font-size="3.72" fill="#333" stroke="#333" stroke-width="0.12" textLength="6.2" lengthAdjust="spacingAndGlyphs">Mut</text>
<line x1="19.40" y1="216.50" x2="19.40" y2="283.10" stroke="#333" stroke-width="0.55"/>
<line x1="19.40" y1="283.10" x2="103.10" y2="283.10" stroke="#333" stroke-width="0.55"/>
<line x1="18.20" y1="218.30" x2="19.40" y2="218.30" stroke="#333" stroke-width="0.4"/>
<text x="17.50" y="219.55" font-size="3.3" fill="#333" stroke="#333" stroke-width="0.12" text-anchor="end">4.0</text>
<line x1="18.20" y1="234.50" x2="19.40" y2="234.50" stroke="#333" stroke-width="0.4"/>
<text x="17.50" y="235.75" font-size="3.3" fill="#333" stroke="#333" stroke-width="0.12" text-anchor="end">3.0</text>
<line x1="18.20" y1="250.70" x2="19.40" y2="250.70" stroke="#333" stroke-width="0.4"/>
<text x="17.50" y="251.95" font-size="3.3" fill="#333" stroke="#333" stroke-width="0.12" text-anchor="end">2.0</text>
<line x1="18.20" y1="266.90" x2="19.40" y2="266.90" stroke="#333" stroke-width="0.4"/>
<text x="17.50" y="268.15" font-size="3.3" fill="#333" stroke="#333" stroke-width="0.12" text-anchor="end">1.0</text>
<line x1="18.20" y1="283.10" x2="19.40" y2="283.10" stroke="#333" stroke-width="0.4"/>
<text x="17.50" y="284.35" font-size="3.3" fill="#333" stroke="#333" stroke-width="0.12" text-anchor="end">0.0</text>
<line x1="42.25" y1="283.10" x2="42.25" y2="284.30" stroke="#333" stroke-width="0.4"/>
<line x1="81.50" y1="283.10" x2="81.50" y2="284.30" stroke="#333" stroke-width="0.4"/>
<text x="9.69" y="252.00" font-size="2.86" fill="#333" stroke="#333" stroke-width="0.12" text-anchor="middle" textLength="21" lengthAdjust="spacingAndGlyphs" transform="rotate(-90 9.69 252.00)">Positive rate (%)</text>
<path d="M51.80,223.10 L53.10,223.60 L53.40,226.00 L53.30,230.00 L52.80,234.00 L52.40,238.00 L52.60,241.00 L53.20,244.00 L54.10,247.00 L55.30,251.00 L56.50,255.00 L57.50,259.00 L58.70,263.00 L59.70,267.00 L60.40,271.00 L60.50,275.00 L59.90,278.00 L58.50,280.50 L56.50,281.80 L52.50,282.40 L50.50,282.40 L46.50,281.80 L44.50,280.50 L43.10,278.00 L42.50,275.00 L42.60,271.00 L43.30,267.00 L44.30,263.00 L45.50,259.00 L46.50,255.00 L47.70,251.00 L48.90,247.00 L49.80,244.00 L50.40,241.00 L50.60,238.00 L50.20,234.00 L49.70,230.00 L49.60,226.00 L49.90,223.60 L51.20,223.10 Z" fill="#f2b6bc" stroke="#c85a6a" stroke-width="0.4" stroke-linejoin="round"/>
<rect x="50.20" y="257.50" width="2.60" height="21.00" fill="#8a1a2a"/>
<line x1="51.50" y1="240.00" x2="51.50" y2="281.50" stroke="#8a1a2a" stroke-width="0.35"/>
<path d="M33.30,273.50 L34.50,275.00 L36.00,277.00 L38.00,279.00 L40.50,281.00 L42.00,282.50 L42.20,283.10 L23.80,283.10 L24.00,282.50 L25.50,281.00 L28.00,279.00 L30.00,277.00 L31.50,275.00 L32.70,273.50 Z" fill="#a6c4e2" stroke="#4a7ab8" stroke-width="0.4" stroke-linejoin="round"/>
<circle cx="32.70" cy="280.30" r="1.50" fill="#1d4f88"/>
<path d="M71.80,280.60 L75.50,281.50 L79.50,282.50 L81.50,283.10 L61.50,283.10 L63.50,282.50 L67.50,281.50 L71.20,280.60 Z" fill="#8aa4c4" stroke="#4a6a98" stroke-width="0.4" stroke-linejoin="round"/>
<line x1="71.90" y1="275.60" x2="71.90" y2="281.00" stroke="#4a6a98" stroke-width="0.35"/>
<path d="M91.30,275.00 L93.00,276.50 L95.50,278.50 L98.50,280.50 L101.00,282.20 L101.60,283.10 L80.40,283.10 L81.00,282.20 L83.50,280.50 L86.50,278.50 L89.00,276.50 L90.70,275.00 Z" fill="#eeb0b8" stroke="#b85868" stroke-width="0.4" stroke-linejoin="round"/>
<circle cx="90.30" cy="280.20" r="1.20" fill="#9a2a3a"/>
<line x1="90.00" y1="262.50" x2="90.00" y2="276.50" stroke="#a83848" stroke-width="0.4"/>
<text x="43.00" y="213.82" font-size="3.52" fill="#333" stroke="#333" stroke-width="0.12" text-anchor="middle" textLength="17.5" lengthAdjust="spacingAndGlyphs">FC = 10.88</text>
<text x="43.10" y="219.57" font-size="3.66" fill="#333" stroke="#333" stroke-width="0.12" text-anchor="middle" textLength="21" lengthAdjust="spacingAndGlyphs"><tspan font-style="italic">P</tspan> = 8.67e-03</text>
<line x1="34.40" y1="220.90" x2="50.60" y2="220.90" stroke="#333" stroke-width="0.35"/>
<text x="82.50" y="253.26" font-size="3.62" fill="#333" stroke="#333" stroke-width="0.12" text-anchor="middle" textLength="16" lengthAdjust="spacingAndGlyphs">FC = 8.79</text>
<text x="83.20" y="258.97" font-size="3.92" fill="#333" stroke="#333" stroke-width="0.12" text-anchor="middle" textLength="22.5" lengthAdjust="spacingAndGlyphs"><tspan font-style="italic">P</tspan> = 6.89e-02</text>
<line x1="75.00" y1="260.40" x2="90.60" y2="260.40" stroke="#333" stroke-width="0.35"/>
<text x="42.50" y="289.86" font-size="3.62" fill="#333" stroke="#333" stroke-width="0.12" text-anchor="middle" textLength="17.5" lengthAdjust="spacingAndGlyphs">IL1RN-201</text>
<text x="81.20" y="290.06" font-size="3.62" fill="#333" stroke="#333" stroke-width="0.12" text-anchor="middle" textLength="17.5" lengthAdjust="spacingAndGlyphs">IL1RN-203</text>
<text x="121.20" y="201.30" font-size="4" fill="#111" stroke="#111" stroke-width="0.12" font-weight="bold" font-style="italic">F</text>
<text x="142.25" y="201.31" font-size="2.93" fill="#333" stroke="#333" stroke-width="0.12" textLength="10.9" lengthAdjust="spacingAndGlyphs">Pearson</text>
<text x="142.25" y="205.82" font-size="3.79" fill="#333" stroke="#333" stroke-width="0.12" textLength="17.7" lengthAdjust="spacingAndGlyphs">correlation</text>
<rect x="141.50" y="209.00" width="21.60" height="2.90" fill="url(#cb)"/>
<text x="143.00" y="216.50" font-size="1.9" fill="#555" stroke="#555" stroke-width="0.12" text-anchor="middle" transform="rotate(-90 143.00 216.50)">-0.2</text>
<circle cx="142.60" cy="218.30" r="0.50" fill="none" stroke="#777" stroke-width="0.25"/>
<text x="147.80" y="216.50" font-size="1.9" fill="#555" stroke="#555" stroke-width="0.12" text-anchor="middle" transform="rotate(-90 147.80 216.50)">-0.1</text>
<circle cx="147.40" cy="218.30" r="0.62" fill="none" stroke="#777" stroke-width="0.25"/>
<text x="152.60" y="216.50" font-size="1.9" fill="#555" stroke="#555" stroke-width="0.12" text-anchor="middle" transform="rotate(-90 152.60 216.50)">0</text>
<circle cx="152.20" cy="218.30" r="0.74" fill="none" stroke="#777" stroke-width="0.25"/>
<text x="157.40" y="216.50" font-size="1.9" fill="#555" stroke="#555" stroke-width="0.12" text-anchor="middle" transform="rotate(-90 157.40 216.50)">0.1</text>
<circle cx="157.00" cy="218.30" r="0.86" fill="none" stroke="#777" stroke-width="0.25"/>
<text x="162.20" y="216.50" font-size="1.9" fill="#555" stroke="#555" stroke-width="0.12" text-anchor="middle" transform="rotate(-90 162.20 216.50)">0.2</text>
<circle cx="161.80" cy="218.30" r="0.98" fill="none" stroke="#777" stroke-width="0.25"/>
<line x1="136.00" y1="212.50" x2="136.00" y2="281.90" stroke="#333" stroke-width="0.55"/>
<line x1="136.00" y1="281.90" x2="216.90" y2="281.90" stroke="#333" stroke-width="0.55"/>
<line x1="134.80" y1="223.10" x2="136.00" y2="223.10" stroke="#333" stroke-width="0.4"/>
<text x="134.10" y="224.35" font-size="3.3" fill="#333" stroke="#333" stroke-width="0.12" text-anchor="end">4.0</text>
<line x1="134.80" y1="236.85" x2="136.00" y2="236.85" stroke="#333" stroke-width="0.4"/>
<text x="134.10" y="238.10" font-size="3.3" fill="#333" stroke="#333" stroke-width="0.12" text-anchor="end">3.0</text>
<line x1="134.80" y1="250.60" x2="136.00" y2="250.60" stroke="#333" stroke-width="0.4"/>
<text x="134.10" y="251.85" font-size="3.3" fill="#333" stroke="#333" stroke-width="0.12" text-anchor="end">2.0</text>
<line x1="134.80" y1="264.35" x2="136.00" y2="264.35" stroke="#333" stroke-width="0.4"/>
<text x="134.10" y="265.60" font-size="3.3" fill="#333" stroke="#333" stroke-width="0.12" text-anchor="end">1.0</text>
<line x1="134.80" y1="278.10" x2="136.00" y2="278.10" stroke="#333" stroke-width="0.4"/>
<text x="134.10" y="279.35" font-size="3.3" fill="#333" stroke="#333" stroke-width="0.12" text-anchor="end">0.0</text>
<line x1="144.40" y1="281.90" x2="144.40" y2="283.10" stroke="#333" stroke-width="0.4"/>
<text x="144.40" y="286.30" font-size="2.9" fill="#333" stroke="#333" stroke-width="0.12" text-anchor="middle">-0.2</text>
<line x1="170.00" y1="281.90" x2="170.00" y2="283.10" stroke="#333" stroke-width="0.4"/>
<text x="170.00" y="286.30" font-size="2.9" fill="#333" stroke="#333" stroke-width="0.12" text-anchor="middle">0.0</text>
<line x1="197.00" y1="281.90" x2="197.00" y2="283.10" stroke="#333" stroke-width="0.4"/>
<text x="197.00" y="286.30" font-size="2.9" fill="#333" stroke="#333" stroke-width="0.12" text-anchor="middle">0.2</text>
<text x="125.20" y="246.00" font-size="3.3" fill="#333" stroke="#333" stroke-width="0.12" text-anchor="middle" transform="rotate(-90 125.20 246.00)">-Log<tspan font-size="2.3" dy="0.9">10</tspan><tspan dy="-0.9" font-style="italic">P</tspan></text>
<text x="175.50" y="292.50" font-size="3.74" fill="#333" stroke="#333" stroke-width="0.12" text-anchor="middle" textLength="93" lengthAdjust="spacingAndGlyphs">Correlation of IL1RN_MX (PSI) and inflammation factors</text>
<circle cx="157.00" cy="267.08" r="0.75" fill="#3b70b8" fill-opacity="0.75"/>
<circle cx="157.54" cy="267.36" r="0.75" fill="#3f74ba" fill-opacity="0.75"/>
<circle cx="158.08" cy="268.32" r="0.75" fill="#4479bc" fill-opacity="0.75"/>
<circle cx="158.63" cy="268.43" r="0.75" fill="#497dbe" fill-opacity="0.75"/>
<circle cx="159.17" cy="268.78" r="0.75" fill="#4d82c1" fill-opacity="0.75"/>
<circle cx="159.71" cy="269.81" r="0.75" fill="#5286c3" fill-opacity="0.75"/>
<circle cx="160.25" cy="271.13" r="0.75" fill="#578bc5" fill-opacity="0.75"/>
<circle cx="160.80" cy="271.43" r="0.75" fill="#5c8fc7" fill-opacity="0.75"/>
<circle cx="161.34" cy="271.87" r="0.75" fill="#6094ca" fill-opacity="0.75"/>
<circle cx="161.88" cy="271.49" r="0.75" fill="#6598cc" fill-opacity="0.75"/>
<circle cx="162.42" cy="272.49" r="0.75" fill="#6a9dce" fill-opacity="0.75"/>
<circle cx="162.97" cy="272.57" r="0.75" fill="#6fa1d0" fill-opacity="0.75"/>
<circle cx="163.51" cy="272.89" r="0.75" fill="#73a6d3" fill-opacity="0.75"/>
<circle cx="164.05" cy="273.28" r="0.75" fill="#78aad5" fill-opacity="0.75"/>
<circle cx="164.59" cy="273.95" r="0.75" fill="#7dafd7" fill-opacity="0.75"/>
<circle cx="165.14" cy="275.58" r="0.75" fill="#82b3d9" fill-opacity="0.75"/>
<circle cx="165.68" cy="275.92" r="0.75" fill="#86b8dc" fill-opacity="0.75"/>
<circle cx="166.22" cy="276.37" r="0.75" fill="#8bbcde" fill-opacity="0.75"/>
<circle cx="166.76" cy="276.86" r="0.75" fill="#91c1df" fill-opacity="0.75"/>
<circle cx="167.31" cy="276.38" r="0.75" fill="#9ac4dc" fill-opacity="0.75"/>
<circle cx="167.85" cy="277.06" r="0.75" fill="#a3c8d9" fill-opacity="0.75"/>
<circle cx="168.39" cy="277.36" r="0.75" fill="#acccd6" fill-opacity="0.75"/>
<circle cx="168.93" cy="277.05" r="0.75" fill="#b4d0d3" fill-opacity="0.75"/>
<circle cx="169.47" cy="276.77" r="0.75" fill="#bdd3d0" fill-opacity="0.75"/>
<circle cx="170.02" cy="276.33" r="0.75" fill="#c6d7cd" fill-opacity="0.75"/>
<circle cx="170.56" cy="274.58" r="0.75" fill="#cfdbca" fill-opacity="0.75"/>
<circle cx="171.10" cy="274.94" r="0.75" fill="#d8dec8" fill-opacity="0.75"/>
<circle cx="171.64" cy="274.56" r="0.75" fill="#e0e2c5" fill-opacity="0.75"/>
<circle cx="172.19" cy="273.82" r="0.75" fill="#e9e6c2" fill-opacity="0.75"/>
<circle cx="172.73" cy="272.82" r="0.75" fill="#f2eabf" fill-opacity="0.75"/>
<circle cx="173.27" cy="272.81" r="0.75" fill="#f6e9ba" fill-opacity="0.75"/>
<circle cx="173.81" cy="271.72" r="0.75" fill="#f6e4b2" fill-opacity="0.75"/>
<circle cx="174.36" cy="272.60" r="0.75" fill="#f6dfab" fill-opacity="0.75"/>
<circle cx="174.90" cy="272.01" r="0.75" fill="#f5d9a3" fill-opacity="0.75"/>
<circle cx="175.44" cy="271.02" r="0.75" fill="#f5d49c" fill-opacity="0.75"/>
<circle cx="175.98" cy="270.15" r="0.75" fill="#f5cf94" fill-opacity="0.75"/>
<circle cx="176.53" cy="270.64" r="0.75" fill="#f4ca8d" fill-opacity="0.75"/>
<circle cx="177.07" cy="269.63" r="0.75" fill="#f4c586" fill-opacity="0.75"/>
<circle cx="177.61" cy="269.65" r="0.75" fill="#f4c07e" fill-opacity="0.75"/>
<circle cx="178.15" cy="269.11" r="0.75" fill="#f3bb77" fill-opacity="0.75"/>
<circle cx="178.69" cy="268.09" r="0.75" fill="#f3b56f" fill-opacity="0.75"/>
<circle cx="179.24" cy="267.46" r="0.75" fill="#f3b068" fill-opacity="0.75"/>
<circle cx="179.78" cy="267.28" r="0.75" fill="#f2ab60" fill-opacity="0.75"/>
<circle cx="180.32" cy="266.53" r="0.75" fill="#f2a659" fill-opacity="0.75"/>
<circle cx="180.86" cy="265.63" r="0.75" fill="#f2a151" fill-opacity="0.75"/>
<circle cx="181.41" cy="265.38" r="0.75" fill="#ef9a4e" fill-opacity="0.75"/>
<circle cx="181.95" cy="265.71" r="0.75" fill="#ed944c" fill-opacity="0.75"/>
<circle cx="182.49" cy="264.00" r="0.75" fill="#ea8d4a" fill-opacity="0.75"/>
<circle cx="183.03" cy="263.53" r="0.75" fill="#e78648" fill-opacity="0.75"/>
<circle cx="183.58" cy="263.98" r="0.75" fill="#e47f46" fill-opacity="0.75"/>
<circle cx="184.12" cy="262.95" r="0.75" fill="#e17944" fill-opacity="0.75"/>
<circle cx="184.66" cy="262.88" r="0.75" fill="#de7242" fill-opacity="0.75"/>
<circle cx="185.20" cy="262.30" r="0.75" fill="#db6b40" fill-opacity="0.75"/>
<circle cx="185.75" cy="261.62" r="0.75" fill="#d9643e" fill-opacity="0.75"/>
<circle cx="186.29" cy="262.18" r="0.75" fill="#d65d3c" fill-opacity="0.75"/>
<circle cx="186.83" cy="260.42" r="0.75" fill="#d3573a" fill-opacity="0.75"/>
<circle cx="187.37" cy="260.29" r="0.75" fill="#d05038" fill-opacity="0.75"/>
<circle cx="187.92" cy="259.48" r="0.75" fill="#cd4936" fill-opacity="0.75"/>
<circle cx="188.46" cy="259.69" r="0.75" fill="#ca4234" fill-opacity="0.75"/>
<circle cx="189.00" cy="258.64" r="0.75" fill="#c83c32" fill-opacity="0.75"/>
<circle cx="140.60" cy="232.50" r="0.75" fill="#3b70b8"/>
<circle cx="205.00" cy="214.40" r="0.75" fill="#b83030"/>
<circle cx="202.50" cy="234.40" r="0.75" fill="#b83838"/>
<circle cx="195.60" cy="242.50" r="0.75" fill="#c84040"/>
<circle cx="190.00" cy="252.00" r="0.75" fill="#d05040"/>
<circle cx="189.80" cy="254.50" r="0.75" fill="#d05040"/>
<circle cx="190.80" cy="257.00" r="0.75" fill="#d85848"/>
<circle cx="156.30" cy="266.30" r="0.75" fill="#4a80c0"/>
<circle cx="155.00" cy="265.00" r="0.75" fill="#4a80c0"/>
<text x="205.30" y="212.20" font-size="4.03" fill="#c03030" stroke="#c03030" stroke-width="0.12" text-anchor="middle" textLength="13" lengthAdjust="spacingAndGlyphs">CXCL8</text>
<text x="202.20" y="231.54" font-size="3.56" fill="#c04040" stroke="#c04040" stroke-width="0.12" text-anchor="middle" textLength="18" lengthAdjust="spacingAndGlyphs">Neutrophils</text>
<text x="185.00" y="238.71" font-size="2.93" fill="#d85858" stroke="#d85858" stroke-width="0.12" text-anchor="middle" textLength="20" lengthAdjust="spacingAndGlyphs">MAPK pathway</text>
<text x="205.90" y="244.80" font-size="4.3" fill="#c84040" stroke="#c84040" stroke-width="0.12" text-anchor="middle" textLength="15" lengthAdjust="spacingAndGlyphs">CXCL5</text>
<text x="172.00" y="248.21" font-size="2.93" fill="#e06050" stroke="#e06050" stroke-width="0.12" text-anchor="middle" textLength="20" lengthAdjust="spacingAndGlyphs">NF-κB pathway</text>
<text x="196.90" y="253.19" font-size="3.15" fill="#d05040" stroke="#d05040" stroke-width="0.12" text-anchor="middle" textLength="6.2" lengthAdjust="spacingAndGlyphs">IL1β</text>
<text x="199.40" y="258.83" font-size="3.25" fill="#d05040" stroke="#d05040" stroke-width="0.12" text-anchor="middle" textLength="11.2" lengthAdjust="spacingAndGlyphs">MDSCs</text>
<text x="148.40" y="233.94" font-size="3.58" fill="#4a80c0" stroke="#4a80c0" stroke-width="0.12" text-anchor="middle" textLength="10.6" lengthAdjust="spacingAndGlyphs">STAT1</text>
<text x="147.20" y="259.90" font-size="3.47" fill="#4a80c0" stroke="#4a80c0" stroke-width="0.12" text-anchor="middle" textLength="16.8" lengthAdjust="spacingAndGlyphs">Monocytes</text>
<text x="152.50" y="263.64" font-size="2.74" fill="#4a80c0" stroke="#4a80c0" stroke-width="0.12" text-anchor="middle" textLength="3.8" lengthAdjust="spacingAndGlyphs">Mo</text>
<text x="145.60" y="268.36" font-size="3.62" fill="#4a80c0" stroke="#4a80c0" stroke-width="0.12" text-anchor="middle" textLength="13.7" lengthAdjust="spacingAndGlyphs">CXCL12</text>
<text x="191.90" y="279.80" font-size="2.62" fill="#eed090" stroke="#eed090" stroke-width="0.12" text-anchor="middle" textLength="28.7" lengthAdjust="spacingAndGlyphs">TNF-α/IL-6/JAK pathway</text>
<text x="8.00" y="302.00" font-size="4.5" fill="#111" stroke="#111" stroke-width="0.12" font-weight="bold">G</text>
<line x1="21.20" y1="311.00" x2="21.20" y2="372.10" stroke="#333" stroke-width="0.55"/>
<line x1="21.20" y1="372.10" x2="70.00" y2="372.10" stroke="#333" stroke-width="0.55"/>
<line x1="18.90" y1="312.10" x2="21.20" y2="312.10" stroke="#333" stroke-width="0.5"/>
<text x="17.70" y="313.35" font-size="3.3" fill="#333" stroke="#333" stroke-width="0.12" text-anchor="end">8</text>
<line x1="18.90" y1="327.10" x2="21.20" y2="327.10" stroke="#333" stroke-width="0.5"/>
<text x="17.70" y="328.35" font-size="3.3" fill="#333" stroke="#333" stroke-width="0.12" text-anchor="end">6</text>
<line x1="18.90" y1="342.10" x2="21.20" y2="342.10" stroke="#333" stroke-width="0.5"/>
<text x="17.70" y="343.35" font-size="3.3" fill="#333" stroke="#333" stroke-width="0.12" text-anchor="end">4</text>
<line x1="18.90" y1="357.10" x2="21.20" y2="357.10" stroke="#333" stroke-width="0.5"/>
<text x="17.70" y="358.35" font-size="3.3" fill="#333" stroke="#333" stroke-width="0.12" text-anchor="end">2</text>
<line x1="18.90" y1="372.10" x2="21.20" y2="372.10" stroke="#333" stroke-width="0.5"/>
<text x="17.70" y="373.35" font-size="3.3" fill="#333" stroke="#333" stroke-width="0.12" text-anchor="end">0</text>
<text x="11.80" y="340.00" font-size="3.1" fill="#333" stroke="#333" stroke-width="0.12" text-anchor="middle" textLength="62" lengthAdjust="spacingAndGlyphs" transform="rotate(-90 11.80 340.00)">Number of migrated neutrophils (×10<tspan font-size="2.2" dy="-1.1">4</tspan><tspan dy="1.1">)</tspan></text>
<rect x="24.40" y="344.60" width="6.20" height="27.50" fill="#fff" stroke="#222" stroke-width="0.45"/>
<circle cx="25.90" cy="343.40" r="0.85" fill="#222"/>
<circle cx="27.50" cy="342.20" r="0.85" fill="#222"/>
<circle cx="29.00" cy="345.00" r="0.85" fill="#222"/>
<circle cx="27.50" cy="346.40" r="0.85" fill="#222"/>
<line x1="27.50" y1="341.10" x2="27.50" y2="347.60" stroke="#222" stroke-width="0.3"/>
<line x1="26.40" y1="341.10" x2="28.60" y2="341.10" stroke="#222" stroke-width="0.3"/>
<rect x="33.50" y="332.50" width="6.20" height="39.60" fill="#fff" stroke="#c84050" stroke-width="0.45"/>
<circle cx="35.00" cy="331.30" r="0.85" fill="#c84050"/>
<circle cx="36.60" cy="330.10" r="0.85" fill="#c84050"/>
<circle cx="38.10" cy="332.90" r="0.85" fill="#c84050"/>
<circle cx="36.60" cy="334.30" r="0.85" fill="#c84050"/>
<line x1="36.60" y1="329.00" x2="36.60" y2="335.50" stroke="#c84050" stroke-width="0.3"/>
<line x1="35.50" y1="329.00" x2="37.70" y2="329.00" stroke="#c84050" stroke-width="0.3"/>
<rect x="45.60" y="322.50" width="6.20" height="49.60" fill="#fff" stroke="#3a70c0" stroke-width="0.45"/>
<circle cx="47.10" cy="321.30" r="0.85" fill="#3a70c0"/>
<circle cx="48.70" cy="320.10" r="0.85" fill="#3a70c0"/>
<circle cx="50.20" cy="322.90" r="0.85" fill="#3a70c0"/>
<circle cx="48.70" cy="324.30" r="0.85" fill="#3a70c0"/>
<line x1="48.70" y1="319.00" x2="48.70" y2="325.50" stroke="#3a70c0" stroke-width="0.3"/>
<line x1="47.60" y1="319.00" x2="49.80" y2="319.00" stroke="#3a70c0" stroke-width="0.3"/>
<rect x="55.00" y="339.60" width="6.20" height="32.50" fill="#fff" stroke="#2aa0b0" stroke-width="0.45"/>
<circle cx="56.50" cy="338.40" r="0.85" fill="#2aa0b0"/>
<circle cx="58.10" cy="337.20" r="0.85" fill="#2aa0b0"/>
<circle cx="59.60" cy="340.00" r="0.85" fill="#2aa0b0"/>
<circle cx="58.10" cy="341.40" r="0.85" fill="#2aa0b0"/>
<line x1="58.10" y1="336.10" x2="58.10" y2="342.60" stroke="#2aa0b0" stroke-width="0.3"/>
<line x1="57.00" y1="336.10" x2="59.20" y2="336.10" stroke="#2aa0b0" stroke-width="0.3"/>
<rect x="64.20" y="342.00" width="6.20" height="30.10" fill="#fff" stroke="#f0d8a0" stroke-width="0.45"/>
<circle cx="65.70" cy="340.80" r="0.85" fill="#e8c880"/>
<circle cx="67.30" cy="339.60" r="0.85" fill="#e8c880"/>
<circle cx="68.80" cy="342.40" r="0.85" fill="#e8c880"/>
<circle cx="67.30" cy="343.80" r="0.85" fill="#e8c880"/>
<line x1="67.30" y1="338.50" x2="67.30" y2="345.00" stroke="#e8c880" stroke-width="0.3"/>
<line x1="66.20" y1="338.50" x2="68.40" y2="338.50" stroke="#e8c880" stroke-width="0.3"/>
<text x="57.00" y="304.51" font-size="3.49" fill="#333" stroke="#333" stroke-width="0.12" text-anchor="middle" textLength="20" lengthAdjust="spacingAndGlyphs"><tspan font-style="italic">P</tspan> = 1.00e-04</text>
<line x1="48.50" y1="306.90" x2="66.00" y2="306.90" stroke="#333" stroke-width="0.35"/>
<text x="54.50" y="311.81" font-size="3.49" fill="#333" stroke="#333" stroke-width="0.12" text-anchor="middle" textLength="20" lengthAdjust="spacingAndGlyphs"><tspan font-style="italic">P</tspan> = 1.00e-04</text>
<line x1="48.75" y1="314.00" x2="57.50" y2="314.00" stroke="#333" stroke-width="0.35"/>
<text x="33.70" y="325.37" font-size="3.66" fill="#333" stroke="#333" stroke-width="0.12" text-anchor="middle" textLength="21" lengthAdjust="spacingAndGlyphs"><tspan font-style="italic">P</tspan> = 1.60e-02</text>
<line x1="26.90" y1="327.75" x2="34.40" y2="327.75" stroke="#333" stroke-width="0.35"/>
<text x="73.75" y="303.30" font-size="2.9" fill="#333" stroke="#333" stroke-width="0.12">6 h</text>
<rect x="73.90" y="305.75" width="6.00" height="2.70" fill="none" stroke="#222" stroke-width="0.45"/>
<text x="81.90" y="308.32" font-size="3.23" fill="#333" stroke="#333" stroke-width="0.12" textLength="7" lengthAdjust="spacingAndGlyphs">siNC</text>
<rect x="73.90" y="312.40" width="6.00" height="2.70" fill="none" stroke="#c84050" stroke-width="0.45"/>
<text x="81.90" y="315.14" font-size="3.7" fill="#333" stroke="#333" stroke-width="0.12" textLength="21.8" lengthAdjust="spacingAndGlyphs">shIL1RN-201</text>
<rect x="73.90" y="320.25" width="6.00" height="2.70" fill="none" stroke="#3a70c0" stroke-width="0.45"/>
<text x="81.90" y="322.93" font-size="3.53" fill="#333" stroke="#333" stroke-width="0.12" textLength="10" lengthAdjust="spacingAndGlyphs">Vector</text>
<rect x="73.90" y="327.15" width="6.00" height="2.70" fill="none" stroke="#2aa0b0" stroke-width="0.45"/>
<text x="81.90" y="329.90" font-size="3.74" fill="#333" stroke="#333" stroke-width="0.12" textLength="24.5" lengthAdjust="spacingAndGlyphs">HA-IL1RN-201</text>
<rect x="73.90" y="333.65" width="6.00" height="2.70" fill="none" stroke="#f0d8a0" stroke-width="0.45"/>
<text x="81.90" y="336.43" font-size="3.81" fill="#333" stroke="#333" stroke-width="0.12" textLength="25" lengthAdjust="spacingAndGlyphs">HA-IL1RN-203</text>
<line x1="31.90" y1="372.10" x2="31.90" y2="373.30" stroke="#333" stroke-width="0.4"/>
<line x1="57.50" y1="372.10" x2="57.50" y2="373.30" stroke="#333" stroke-width="0.4"/>
<text x="17.50" y="379.00" font-size="3.6" fill="#333" stroke="#333" stroke-width="0.12">UCCF-KRAS<tspan font-size="2.4" dy="-1.3">G12D</tspan></text>
<text x="50.60" y="378.85" font-size="3.6" fill="#333" stroke="#333" stroke-width="0.12" textLength="14" lengthAdjust="spacingAndGlyphs">HuCCT1</text>
<text x="121.70" y="301.50" font-size="4.5" fill="#111" stroke="#111" stroke-width="0.12" font-weight="bold">H</text>
<line x1="142.10" y1="312.00" x2="142.10" y2="340.50" stroke="#333" stroke-width="0.55"/>
<line x1="142.10" y1="343.50" x2="142.10" y2="372.10" stroke="#333" stroke-width="0.55"/>
<line x1="142.10" y1="372.10" x2="194.00" y2="372.10" stroke="#333" stroke-width="0.55"/>
<line x1="139.80" y1="312.50" x2="142.10" y2="312.50" stroke="#333" stroke-width="0.5"/>
<text x="138.60" y="313.75" font-size="3.3" fill="#333" stroke="#333" stroke-width="0.12" text-anchor="end">10.0</text>
<line x1="139.80" y1="326.20" x2="142.10" y2="326.20" stroke="#333" stroke-width="0.5"/>
<text x="138.60" y="327.45" font-size="3.3" fill="#333" stroke="#333" stroke-width="0.12" text-anchor="end">7.5</text>
<line x1="139.80" y1="339.70" x2="142.10" y2="339.70" stroke="#333" stroke-width="0.5"/>
<text x="138.60" y="340.95" font-size="3.3" fill="#333" stroke="#333" stroke-width="0.12" text-anchor="end">5.0</text>
<line x1="139.80" y1="344.60" x2="142.10" y2="344.60" stroke="#333" stroke-width="0.5"/>
<text x="138.60" y="345.85" font-size="3.3" fill="#333" stroke="#333" stroke-width="0.12" text-anchor="end">0.6</text>
<line x1="139.80" y1="354.00" x2="142.10" y2="354.00" stroke="#333" stroke-width="0.5"/>
<text x="138.60" y="355.25" font-size="3.3" fill="#333" stroke="#333" stroke-width="0.12" text-anchor="end">0.4</text>
<line x1="139.80" y1="363.30" x2="142.10" y2="363.30" stroke="#333" stroke-width="0.5"/>
<text x="138.60" y="364.55" font-size="3.3" fill="#333" stroke="#333" stroke-width="0.12" text-anchor="end">0.2</text>
<line x1="139.80" y1="372.10" x2="142.10" y2="372.10" stroke="#333" stroke-width="0.5"/>
<text x="138.60" y="373.35" font-size="3.3" fill="#333" stroke="#333" stroke-width="0.12" text-anchor="end">0.0</text>
<text x="130.45" y="335.70" font-size="3.6" fill="#333" stroke="#333" stroke-width="0.12" text-anchor="middle" textLength="25" lengthAdjust="spacingAndGlyphs" transform="rotate(-90 130.45 335.70)">CXCL8 (pg/mL)</text>
<rect x="146.00" y="366.25" width="5.60" height="5.85" fill="#fff" stroke="#222" stroke-width="0.45"/>
<circle cx="147.30" cy="366.25" r="0.85" fill="#222"/>
<circle cx="148.80" cy="365.95" r="0.85" fill="#222"/>
<circle cx="150.30" cy="366.45" r="0.85" fill="#222"/>
<rect x="155.00" y="356.75" width="5.60" height="15.35" fill="#fff" stroke="#c84050" stroke-width="0.45"/>
<circle cx="156.30" cy="356.75" r="0.85" fill="#c84050"/>
<circle cx="157.80" cy="356.45" r="0.85" fill="#c84050"/>
<circle cx="159.30" cy="356.95" r="0.85" fill="#c84050"/>
<circle cx="157.80" cy="355.25" r="0.65" fill="#c84050"/>
<circle cx="157.80" cy="358.35" r="0.65" fill="#c84050"/>
<line x1="157.80" y1="353.95" x2="157.80" y2="359.55" stroke="#c84050" stroke-width="0.35"/>
<rect x="167.50" y="314.00" width="5.60" height="58.10" fill="#fff" stroke="#3a70c0" stroke-width="0.45"/>
<circle cx="168.80" cy="314.00" r="0.85" fill="#3a70c0"/>
<circle cx="170.30" cy="313.70" r="0.85" fill="#3a70c0"/>
<circle cx="171.80" cy="314.20" r="0.85" fill="#3a70c0"/>
<rect x="176.25" y="336.00" width="5.60" height="36.10" fill="#fff" stroke="#2aa0b0" stroke-width="0.45"/>
<circle cx="177.55" cy="336.00" r="0.85" fill="#2aa0b0"/>
<circle cx="179.05" cy="335.70" r="0.85" fill="#2aa0b0"/>
<circle cx="180.55" cy="336.20" r="0.85" fill="#2aa0b0"/>
<rect x="186.25" y="323.10" width="5.60" height="49.00" fill="#fff" stroke="#f0d8a0" stroke-width="0.45"/>
<circle cx="187.55" cy="323.10" r="0.85" fill="#e8c880"/>
<circle cx="189.05" cy="322.80" r="0.85" fill="#e8c880"/>
<circle cx="190.55" cy="323.30" r="0.85" fill="#e8c880"/>
<rect x="143.00" y="340.60" width="52.00" height="2.80" fill="#fff"/>
<line x1="140.80" y1="341.30" x2="143.40" y2="340.20" stroke="#333" stroke-width="0.4"/>
<line x1="140.80" y1="343.30" x2="143.40" y2="342.20" stroke="#333" stroke-width="0.4"/>
<text x="154.00" y="343.44" font-size="3.57" fill="#333" stroke="#333" stroke-width="0.12" text-anchor="middle" textLength="20.5" lengthAdjust="spacingAndGlyphs"><tspan font-style="italic">P</tspan> = 2.75e-02</text>
<line x1="148.75" y1="345.25" x2="157.50" y2="345.25" stroke="#333" stroke-width="0.35"/>
<text x="174.40" y="310.57" font-size="3.66" fill="#333" stroke="#333" stroke-width="0.12" text-anchor="middle" textLength="21" lengthAdjust="spacingAndGlyphs"><tspan font-style="italic">P</tspan> = 3.00e-04</text>
<line x1="170.00" y1="312.30" x2="178.75" y2="312.30" stroke="#333" stroke-width="0.35"/>
<text x="178.00" y="303.61" font-size="3.49" fill="#333" stroke="#333" stroke-width="0.12" text-anchor="middle" textLength="20" lengthAdjust="spacingAndGlyphs"><tspan font-style="italic">P</tspan> = 6.80e-03</text>
<line x1="171.00" y1="305.60" x2="189.00" y2="305.60" stroke="#333" stroke-width="0.35"/>
<line x1="153.40" y1="372.10" x2="153.40" y2="373.30" stroke="#333" stroke-width="0.4"/>
<line x1="179.10" y1="372.10" x2="179.10" y2="373.30" stroke="#333" stroke-width="0.4"/>
<text x="140.00" y="379.00" font-size="3.6" fill="#333" stroke="#333" stroke-width="0.12">UCCF-KRAS<tspan font-size="2.4" dy="-1.3">G12D</tspan></text>
<text x="178.70" y="379.02" font-size="3.52" fill="#333" stroke="#333" stroke-width="0.12" text-anchor="middle" textLength="13.7" lengthAdjust="spacingAndGlyphs">HuCCT1</text>
<text x="196.90" y="306.75" font-size="2.47" fill="#333" stroke="#333" stroke-width="0.12" textLength="4.8" lengthAdjust="spacingAndGlyphs">24 h</text>
<rect x="196.90" y="311.25" width="5.30" height="2.70" fill="none" stroke="#222" stroke-width="0.45"/>
<text x="204.80" y="314.13" font-size="4.11" fill="#333" stroke="#333" stroke-width="0.12" textLength="8.9" lengthAdjust="spacingAndGlyphs">siNC</text>
<rect x="196.90" y="317.55" width="5.30" height="2.70" fill="none" stroke="#c84050" stroke-width="0.45"/>
<text x="204.80" y="320.24" font-size="3.56" fill="#333" stroke="#333" stroke-width="0.12" textLength="21" lengthAdjust="spacingAndGlyphs">shIL1RN-201</text>
<rect x="196.90" y="325.75" width="5.30" height="2.70" fill="none" stroke="#3a70c0" stroke-width="0.45"/>
<text x="204.80" y="328.49" font-size="3.7" fill="#333" stroke="#333" stroke-width="0.12" textLength="10.5" lengthAdjust="spacingAndGlyphs">Vector</text>
<rect x="196.90" y="332.25" width="5.30" height="2.70" fill="none" stroke="#2aa0b0" stroke-width="0.45"/>
<text x="204.80" y="334.95" font-size="3.6" fill="#333" stroke="#333" stroke-width="0.12" textLength="23.6" lengthAdjust="spacingAndGlyphs">HA-IL1RN-201</text>
<rect x="196.90" y="338.25" width="5.30" height="2.70" fill="none" stroke="#f0d8a0" stroke-width="0.45"/>
<text x="204.80" y="340.95" font-size="3.6" fill="#333" stroke="#333" stroke-width="0.12" textLength="23.6" lengthAdjust="spacingAndGlyphs">HA-IL1RN-203</text>
<text x="270.80" y="119.00" font-size="4.5" fill="#111" stroke="#111" stroke-width="0.12" font-weight="bold">K</text>
<line x1="284.00" y1="132.00" x2="284.00" y2="192.25" stroke="#333" stroke-width="0.55"/>
<line x1="284.00" y1="192.25" x2="345.00" y2="192.25" stroke="#333" stroke-width="0.55"/>
<line x1="281.70" y1="132.25" x2="284.00" y2="132.25" stroke="#333" stroke-width="0.5"/>
<text x="280.50" y="133.50" font-size="3.3" fill="#333" stroke="#333" stroke-width="0.12" text-anchor="end">10</text>
<line x1="281.70" y1="144.25" x2="284.00" y2="144.25" stroke="#333" stroke-width="0.5"/>
<text x="280.50" y="145.50" font-size="3.3" fill="#333" stroke="#333" stroke-width="0.12" text-anchor="end">8</text>
<line x1="281.70" y1="156.25" x2="284.00" y2="156.25" stroke="#333" stroke-width="0.5"/>
<text x="280.50" y="157.50" font-size="3.3" fill="#333" stroke="#333" stroke-width="0.12" text-anchor="end">6</text>
<line x1="281.70" y1="168.25" x2="284.00" y2="168.25" stroke="#333" stroke-width="0.5"/>
<text x="280.50" y="169.50" font-size="3.3" fill="#333" stroke="#333" stroke-width="0.12" text-anchor="end">4</text>
<line x1="281.70" y1="180.25" x2="284.00" y2="180.25" stroke="#333" stroke-width="0.5"/>
<text x="280.50" y="181.50" font-size="3.3" fill="#333" stroke="#333" stroke-width="0.12" text-anchor="end">2</text>
<line x1="281.70" y1="192.25" x2="284.00" y2="192.25" stroke="#333" stroke-width="0.5"/>
<text x="280.50" y="193.50" font-size="3.3" fill="#333" stroke="#333" stroke-width="0.12" text-anchor="end">0</text>
<text x="273.70" y="159.50" font-size="3.1" fill="#333" stroke="#333" stroke-width="0.12" text-anchor="middle" textLength="57" lengthAdjust="spacingAndGlyphs" transform="rotate(-90 273.70 159.50)">Number of migrated neutrophils (×10<tspan font-size="2.2" dy="-1.1">4</tspan><tspan dy="1.1">)</tspan></text>
<rect x="287.40" y="155.00" width="5.60" height="37.25" fill="#fff" stroke="#222" stroke-width="0.45"/>
<circle cx="288.70" cy="154.70" r="0.85" fill="#222"/>
<circle cx="290.20" cy="154.00" r="0.85" fill="#222"/>
<circle cx="291.70" cy="155.30" r="0.85" fill="#222"/>
<circle cx="290.20" cy="151.00" r="0.65" fill="#222"/>
<circle cx="290.20" cy="156.50" r="0.65" fill="#222"/>
<line x1="290.20" y1="151.00" x2="290.20" y2="158.00" stroke="#222" stroke-width="0.35"/>
<rect x="296.75" y="166.90" width="5.60" height="25.35" fill="#fff" stroke="#c84050" stroke-width="0.45"/>
<circle cx="298.05" cy="166.60" r="0.85" fill="#c84050"/>
<circle cx="299.55" cy="165.90" r="0.85" fill="#c84050"/>
<circle cx="301.05" cy="167.20" r="0.85" fill="#c84050"/>
<rect x="306.10" y="167.50" width="5.60" height="24.75" fill="#fff" stroke="#3a70c0" stroke-width="0.45"/>
<circle cx="307.40" cy="167.20" r="0.85" fill="#3a70c0"/>
<circle cx="308.90" cy="166.50" r="0.85" fill="#3a70c0"/>
<circle cx="310.40" cy="167.80" r="0.85" fill="#3a70c0"/>
<rect x="318.60" y="145.50" width="5.60" height="46.75" fill="#fff" stroke="#222" stroke-width="0.45"/>
<circle cx="319.90" cy="145.20" r="0.85" fill="#222"/>
<circle cx="321.40" cy="144.50" r="0.85" fill="#222"/>
<circle cx="322.90" cy="145.80" r="0.85" fill="#222"/>
<rect x="327.50" y="160.00" width="5.60" height="32.25" fill="#fff" stroke="#c84050" stroke-width="0.45"/>
<circle cx="328.80" cy="159.70" r="0.85" fill="#c84050"/>
<circle cx="330.30" cy="159.00" r="0.85" fill="#c84050"/>
<circle cx="331.80" cy="160.30" r="0.85" fill="#c84050"/>
<rect x="337.25" y="160.60" width="5.60" height="31.65" fill="#fff" stroke="#3a70c0" stroke-width="0.45"/>
<circle cx="338.55" cy="160.30" r="0.85" fill="#3a70c0"/>
<circle cx="340.05" cy="159.60" r="0.85" fill="#3a70c0"/>
<circle cx="341.55" cy="160.90" r="0.85" fill="#3a70c0"/>
<line x1="299.25" y1="192.25" x2="299.25" y2="193.45" stroke="#333" stroke-width="0.4"/>
<line x1="330.50" y1="192.25" x2="330.50" y2="193.45" stroke="#333" stroke-width="0.4"/>
<text x="300.00" y="140.07" font-size="3.66" fill="#333" stroke="#333" stroke-width="0.12" text-anchor="middle" textLength="21" lengthAdjust="spacingAndGlyphs"><tspan font-style="italic">P</tspan> = 1.00e-04</text>
<line x1="290.50" y1="141.50" x2="309.25" y2="141.50" stroke="#333" stroke-width="0.35"/>
<text x="296.10" y="147.47" font-size="3.66" fill="#333" stroke="#333" stroke-width="0.12" text-anchor="middle" textLength="21" lengthAdjust="spacingAndGlyphs"><tspan font-style="italic">P</tspan> = 5.00e-04</text>
<line x1="291.00" y1="148.75" x2="298.60" y2="148.75" stroke="#333" stroke-width="0.35"/>
<text x="331.30" y="133.87" font-size="3.66" fill="#333" stroke="#333" stroke-width="0.12" text-anchor="middle" textLength="21" lengthAdjust="spacingAndGlyphs"><tspan font-style="italic">P</tspan> = 1.00e-04</text>
<line x1="321.25" y1="135.60" x2="339.40" y2="135.60" stroke="#333" stroke-width="0.35"/>
<text x="326.50" y="140.80" font-size="3.75" fill="#333" stroke="#333" stroke-width="0.12" text-anchor="middle" textLength="21.5" lengthAdjust="spacingAndGlyphs"><tspan font-style="italic">P</tspan> = 1.00e-04</text>
<line x1="321.25" y1="142.50" x2="330.00" y2="142.50" stroke="#333" stroke-width="0.35"/>
<text x="346.25" y="129.60" font-size="2.9" fill="#333" stroke="#333" stroke-width="0.12">6 h</text>
<rect x="346.40" y="133.05" width="6.00" height="2.70" fill="none" stroke="#222" stroke-width="0.45"/>
<text x="354.00" y="135.75" font-size="3.6" fill="#333" stroke="#333" stroke-width="0.12" textLength="11.6" lengthAdjust="spacingAndGlyphs">Control</text>
<rect x="346.40" y="139.05" width="6.00" height="2.70" fill="none" stroke="#c84050" stroke-width="0.45"/>
<text x="354.00" y="141.75" font-size="3.6" fill="#333" stroke="#333" stroke-width="0.12" textLength="19" lengthAdjust="spacingAndGlyphs">Anti-CXCL8</text>
<rect x="346.40" y="145.25" width="6.00" height="2.70" fill="none" stroke="#3a70c0" stroke-width="0.45"/>
<text x="354.00" y="147.96" font-size="3.64" fill="#333" stroke="#333" stroke-width="0.12" textLength="16.6" lengthAdjust="spacingAndGlyphs">AZD-5069</text>
<text x="285.60" y="199.20" font-size="3.6" fill="#333" stroke="#333" stroke-width="0.12">UCCF-KRAS<tspan font-size="2.4" dy="-1.3">G12D</tspan></text>
<text x="285.60" y="203.36" font-size="3.06" fill="#333" stroke="#333" stroke-width="0.12" textLength="18" lengthAdjust="spacingAndGlyphs">shIL1RN-201</text>
<text x="329.00" y="198.82" font-size="2.96" fill="#333" stroke="#333" stroke-width="0.12" text-anchor="middle" textLength="11.5" lengthAdjust="spacingAndGlyphs">HuCCT1</text>
<text x="384.20" y="118.80" font-size="4.5" fill="#111" stroke="#111" stroke-width="0.12" font-weight="bold">L</text>
<text x="407.70" y="119.52" font-size="3.78" fill="#333" stroke="#333" stroke-width="0.12" text-anchor="middle" textLength="10.5" lengthAdjust="spacingAndGlyphs">UCCF</text>
<line x1="395.60" y1="120.60" x2="423.10" y2="120.60" stroke="#777" stroke-width="0.35" stroke-dasharray="0.6 0.3"/>
<text x="401.50" y="126.40" font-size="3.74" fill="#333" stroke="#333" stroke-width="0.12" text-anchor="middle" textLength="10.6" lengthAdjust="spacingAndGlyphs">Vector</text>
<text x="410.60" y="126.30" font-size="3.4" fill="#333" stroke="#333" stroke-width="0.12">KRAS<tspan font-size="2.3" dy="-1.3">G12D</tspan></text>
<text x="385.60" y="127.40" font-size="2.6" fill="#333" stroke="#333" stroke-width="0.12">kDa</text>
<rect x="395.60" y="127.50" width="26.30" height="8.80" fill="#979797"/>
<rect x="396.26" y="130.08" width="11.83" height="4.00" rx="2.00" fill="rgb(26,26,26)" filter="url(#bl2)"/>
<rect x="409.41" y="130.28" width="11.83" height="3.60" rx="1.80" fill="rgb(26,26,26)" filter="url(#bl2)"/>
<text x="424.40" y="133.51" font-size="3.76" fill="#333" stroke="#333" stroke-width="0.12" textLength="13.5" lengthAdjust="spacingAndGlyphs">ELAVL1</text>
<text x="392.30" y="133.10" font-size="2.9" fill="#333" stroke="#333" stroke-width="0.12" text-anchor="end">36</text>
<line x1="392.80" y1="132.10" x2="395.00" y2="132.10" stroke="#333" stroke-width="0.3"/>
<rect x="395.60" y="136.90" width="26.30" height="9.40" fill="#979797"/>
<rect x="396.26" y="139.79" width="11.83" height="4.00" rx="2.00" fill="rgb(22,22,22)" filter="url(#bl2)"/>
<rect x="409.41" y="139.99" width="11.83" height="3.60" rx="1.80" fill="rgb(39,39,39)" filter="url(#bl2)"/>
<text x="424.40" y="143.30" font-size="4.02" fill="#333" stroke="#333" stroke-width="0.12" textLength="6.7" lengthAdjust="spacingAndGlyphs">KIN</text>
<text x="392.30" y="142.80" font-size="2.9" fill="#333" stroke="#333" stroke-width="0.12" text-anchor="end">45</text>
<line x1="392.80" y1="141.80" x2="395.00" y2="141.80" stroke="#333" stroke-width="0.3"/>
<rect x="395.60" y="147.50" width="26.30" height="9.10" fill="#979797"/>
<rect x="396.26" y="150.23" width="11.83" height="4.00" rx="2.00" fill="rgb(39,39,39)" filter="url(#bl2)"/>
<rect x="409.41" y="150.43" width="11.83" height="3.60" rx="1.80" fill="rgb(72,72,72)" filter="url(#bl2)"/>
<text x="424.40" y="153.74" font-size="4.0" fill="#333" stroke="#333" stroke-width="0.12" textLength="8" lengthAdjust="spacingAndGlyphs">ILF2</text>
<text x="392.30" y="153.25" font-size="2.9" fill="#333" stroke="#333" stroke-width="0.12" text-anchor="end">50</text>
<line x1="392.80" y1="152.25" x2="395.00" y2="152.25" stroke="#333" stroke-width="0.3"/>
<rect x="395.60" y="158.75" width="26.30" height="10.00" fill="#979797"/>
<rect x="396.26" y="161.95" width="11.83" height="4.00" rx="2.00" fill="rgb(33,33,33)" filter="url(#bl2)"/>
<rect x="409.41" y="162.15" width="11.83" height="3.60" rx="1.80" fill="rgb(78,78,78)" filter="url(#bl2)"/>
<text x="424.40" y="165.51" font-size="4.19" fill="#333" stroke="#333" stroke-width="0.12" textLength="13.5" lengthAdjust="spacingAndGlyphs">DDX17</text>
<text x="392.30" y="164.95" font-size="2.9" fill="#333" stroke="#333" stroke-width="0.12" text-anchor="end">80</text>
<line x1="392.80" y1="163.95" x2="395.00" y2="163.95" stroke="#333" stroke-width="0.3"/>
<rect x="395.60" y="170.00" width="26.30" height="9.40" fill="#979797"/>
<rect x="396.26" y="172.89" width="11.83" height="4.00" rx="2.00" fill="rgb(33,33,33)" filter="url(#bl2)"/>
<rect x="409.41" y="173.09" width="11.83" height="3.60" rx="1.80" fill="rgb(130,130,130)" filter="url(#bl2)"/>
<text x="424.40" y="176.30" font-size="3.74" fill="#e05060" stroke="#e05060" stroke-width="0.12" textLength="12" lengthAdjust="spacingAndGlyphs">TFIP11</text>
<text x="392.30" y="175.90" font-size="2.9" fill="#333" stroke="#333" stroke-width="0.12" text-anchor="end">97</text>
<line x1="392.80" y1="174.90" x2="395.00" y2="174.90" stroke="#333" stroke-width="0.3"/>
<rect x="395.60" y="180.60" width="26.30" height="8.80" fill="#979797"/>
<rect x="396.26" y="183.18" width="11.83" height="4.00" rx="2.00" fill="rgb(26,26,26)" filter="url(#bl2)"/>
<rect x="409.41" y="183.38" width="11.83" height="3.60" rx="1.80" fill="rgb(78,78,78)" filter="url(#bl2)"/>
<text x="424.40" y="186.50" font-size="3.46" fill="#333" stroke="#333" stroke-width="0.12" textLength="14.8" lengthAdjust="spacingAndGlyphs">HNRNPU</text>
<text x="392.30" y="186.20" font-size="2.9" fill="#333" stroke="#333" stroke-width="0.12" text-anchor="end">115</text>
<line x1="392.80" y1="185.20" x2="395.00" y2="185.20" stroke="#333" stroke-width="0.3"/>
<rect x="395.60" y="190.20" width="26.30" height="8.40" fill="#979797"/>
<rect x="396.26" y="192.57" width="11.83" height="4.00" rx="2.00" fill="rgb(22,22,22)" filter="url(#bl2)"/>
<rect x="409.41" y="192.77" width="11.83" height="3.60" rx="1.80" fill="rgb(22,22,22)" filter="url(#bl2)"/>
<text x="424.40" y="195.99" font-size="3.7" fill="#333" stroke="#333" stroke-width="0.12" textLength="12" lengthAdjust="spacingAndGlyphs">Tubulin</text>
<text x="392.30" y="195.60" font-size="2.9" fill="#333" stroke="#333" stroke-width="0.12" text-anchor="end">55</text>
<line x1="392.80" y1="194.60" x2="395.00" y2="194.60" stroke="#333" stroke-width="0.3"/>
<text x="451.00" y="118.80" font-size="4.5" fill="#111" stroke="#111" stroke-width="0.12" font-weight="bold">M</text>
<line x1="471.25" y1="129.00" x2="471.25" y2="190.00" stroke="#333" stroke-width="0.55"/>
<line x1="471.25" y1="190.00" x2="493.00" y2="190.00" stroke="#333" stroke-width="0.55"/>
<line x1="468.95" y1="129.10" x2="471.25" y2="129.10" stroke="#333" stroke-width="0.5"/>
<text x="467.75" y="130.35" font-size="3.3" fill="#333" stroke="#333" stroke-width="0.12" text-anchor="end">0.6</text>
<line x1="468.95" y1="149.40" x2="471.25" y2="149.40" stroke="#333" stroke-width="0.5"/>
<text x="467.75" y="150.65" font-size="3.3" fill="#333" stroke="#333" stroke-width="0.12" text-anchor="end">0.4</text>
<line x1="468.95" y1="169.70" x2="471.25" y2="169.70" stroke="#333" stroke-width="0.5"/>
<text x="467.75" y="170.95" font-size="3.3" fill="#333" stroke="#333" stroke-width="0.12" text-anchor="end">0.2</text>
<line x1="468.95" y1="190.00" x2="471.25" y2="190.00" stroke="#333" stroke-width="0.5"/>
<text x="467.75" y="191.25" font-size="3.3" fill="#333" stroke="#333" stroke-width="0.12" text-anchor="end">0.0</text>
<text x="455.86" y="162.00" font-size="3.44" fill="#333" stroke="#333" stroke-width="0.12" text-anchor="middle" textLength="40" lengthAdjust="spacingAndGlyphs" transform="rotate(-90 455.86 162.00)">PSI value of IL1RN_MX in</text>
<text x="461.40" y="162.00" font-size="3.2" fill="#333" stroke="#333" stroke-width="0.12" text-anchor="middle" transform="rotate(-90 461.40 162.00)">UCCF-KRAS<tspan font-size="2.2" dy="-1.2">G12D</tspan><tspan dy="1.2"> cells</tspan></text>
<rect x="475.00" y="140.25" width="6.20" height="49.75" fill="#fff" stroke="#222" stroke-width="0.45"/>
<circle cx="478.10" cy="133.25" r="0.95" fill="#111"/>
<circle cx="478.10" cy="136.25" r="0.95" fill="#111"/>
<circle cx="478.10" cy="142.25" r="0.95" fill="#111"/>
<circle cx="478.10" cy="147.05" r="0.95" fill="#111"/>
<line x1="478.10" y1="135.00" x2="478.10" y2="143.00" stroke="#222" stroke-width="0.35"/>
<rect x="484.00" y="164.75" width="6.00" height="25.25" fill="#fff" stroke="#c84050" stroke-width="0.45"/>
<circle cx="487.00" cy="161.55" r="0.95" fill="#a02030"/>
<circle cx="486.50" cy="164.75" r="0.95" fill="#a02030"/>
<circle cx="487.50" cy="165.25" r="0.95" fill="#a02030"/>
<circle cx="487.00" cy="166.25" r="0.95" fill="#a02030"/>
<line x1="487.00" y1="162.50" x2="487.00" y2="167.00" stroke="#c84050" stroke-width="0.35"/>
<text x="482.80" y="127.60" font-size="3.75" fill="#333" stroke="#333" stroke-width="0.12" text-anchor="middle" textLength="21.5" lengthAdjust="spacingAndGlyphs"><tspan font-style="italic">P</tspan> = 7.50e-03</text>
<line x1="478.00" y1="128.40" x2="486.00" y2="128.40" stroke="#333" stroke-width="0.35"/>
<rect x="494.40" y="131.20" width="6.20" height="2.70" fill="none" stroke="#222" stroke-width="0.45"/>
<text x="501.90" y="133.89" font-size="3.7" fill="#333" stroke="#333" stroke-width="0.12" textLength="10.5" lengthAdjust="spacingAndGlyphs">Vector</text>
<rect x="494.40" y="136.80" width="6.20" height="2.70" fill="none" stroke="#c84050" stroke-width="0.45"/>
<text x="501.90" y="139.58" font-size="3.96" fill="#333" stroke="#333" stroke-width="0.12" textLength="19.5" lengthAdjust="spacingAndGlyphs">HA-TFIP11</text>
<text x="269.20" y="222.00" font-size="4.5" fill="#111" stroke="#111" stroke-width="0.12" font-weight="bold">N</text>
<text x="294.75" y="245.00" font-size="2.8" fill="#333" stroke="#333" stroke-width="0.12" transform="rotate(-90 294.75 245.00)">DMSO</text>
<text x="308.50" y="245.00" font-size="2.8" fill="#333" stroke="#333" stroke-width="0.12" transform="rotate(-90 308.50 245.00)">Trametinib</text>
<text x="321.60" y="245.00" font-size="2.8" fill="#333" stroke="#333" stroke-width="0.12" transform="rotate(-90 321.60 245.00)">Dexamethasone</text>
<text x="336.00" y="245.00" font-size="2.8" fill="#333" stroke="#333" stroke-width="0.12" transform="rotate(-90 336.00 245.00)">SP600125</text>
<text x="278.00" y="246.30" font-size="2.6" fill="#333" stroke="#333" stroke-width="0.12">kDa</text>
<rect x="288.10" y="247.25" width="53.15" height="9.95" fill="#8e8e8e"/>
<rect x="288.76" y="250.62" width="11.96" height="3.20" rx="1.60" fill="rgb(78,78,78)" filter="url(#bl2)"/>
<rect x="302.05" y="250.62" width="11.96" height="3.20" rx="1.60" fill="rgb(26,26,26)" filter="url(#bl2)"/>
<rect x="315.34" y="250.62" width="11.96" height="3.20" rx="1.60" fill="rgb(72,72,72)" filter="url(#bl2)"/>
<rect x="328.63" y="250.62" width="11.96" height="3.20" rx="1.60" fill="rgb(117,117,117)" filter="url(#bl2)"/>
<text x="343.00" y="253.83" font-size="3.74" fill="#333" stroke="#333" stroke-width="0.12" textLength="12" lengthAdjust="spacingAndGlyphs">TFIP11</text>
<text x="286.00" y="253.42" font-size="2.9" fill="#333" stroke="#333" stroke-width="0.12" text-anchor="end">97</text>
<line x1="286.30" y1="252.53" x2="287.80" y2="252.53" stroke="#333" stroke-width="0.3"/>
<rect x="288.10" y="259.75" width="53.15" height="9.65" fill="#8e8e8e"/>
<rect x="288.76" y="262.68" width="11.96" height="3.80" rx="1.90" fill="rgb(26,26,26)" filter="url(#bl2)"/>
<rect x="302.05" y="262.68" width="11.96" height="3.80" rx="1.90" fill="rgb(26,26,26)" filter="url(#bl2)"/>
<rect x="315.34" y="262.68" width="11.96" height="3.80" rx="1.90" fill="rgb(26,26,26)" filter="url(#bl2)"/>
<rect x="328.63" y="262.68" width="11.96" height="3.80" rx="1.90" fill="rgb(33,33,33)" filter="url(#bl2)"/>
<text x="343.00" y="266.19" font-size="3.79" fill="#333" stroke="#333" stroke-width="0.12" textLength="13.2" lengthAdjust="spacingAndGlyphs">Vinculin</text>
<text x="286.00" y="265.77" font-size="2.9" fill="#333" stroke="#333" stroke-width="0.12" text-anchor="end">124</text>
<line x1="286.30" y1="264.88" x2="287.80" y2="264.88" stroke="#333" stroke-width="0.3"/>
<rect x="288.10" y="273.10" width="53.15" height="10.00" fill="#8e8e8e"/>
<rect x="288.76" y="276.50" width="11.96" height="3.20" rx="1.60" fill="rgb(78,78,78)" filter="url(#bl2)"/>
<rect x="302.05" y="276.50" width="11.96" height="3.20" rx="1.60" fill="rgb(26,26,26)" filter="url(#bl2)"/>
<rect x="315.34" y="276.50" width="11.96" height="3.20" rx="1.60" fill="rgb(91,91,91)" filter="url(#bl2)"/>
<rect x="328.63" y="276.50" width="11.96" height="3.20" rx="1.60" fill="rgb(124,124,124)" filter="url(#bl2)"/>
<text x="343.00" y="279.70" font-size="3.74" fill="#333" stroke="#333" stroke-width="0.12" textLength="12" lengthAdjust="spacingAndGlyphs">TFIP11</text>
<text x="286.00" y="279.30" font-size="2.9" fill="#333" stroke="#333" stroke-width="0.12" text-anchor="end">97</text>
<line x1="286.30" y1="278.40" x2="287.80" y2="278.40" stroke="#333" stroke-width="0.3"/>
<rect x="288.10" y="285.00" width="53.15" height="9.75" fill="#8e8e8e"/>
<rect x="288.76" y="287.98" width="11.96" height="3.80" rx="1.90" fill="rgb(26,26,26)" filter="url(#bl2)"/>
<rect x="302.05" y="287.98" width="11.96" height="3.80" rx="1.90" fill="rgb(26,26,26)" filter="url(#bl2)"/>
<rect x="315.34" y="287.98" width="11.96" height="3.80" rx="1.90" fill="rgb(26,26,26)" filter="url(#bl2)"/>
<rect x="328.63" y="287.98" width="11.96" height="3.80" rx="1.90" fill="rgb(26,26,26)" filter="url(#bl2)"/>
<text x="343.00" y="291.49" font-size="3.79" fill="#333" stroke="#333" stroke-width="0.12" textLength="13.2" lengthAdjust="spacingAndGlyphs">Vinculin</text>
<text x="286.00" y="291.07" font-size="2.9" fill="#333" stroke="#333" stroke-width="0.12" text-anchor="end">124</text>
<line x1="286.30" y1="290.18" x2="287.80" y2="290.18" stroke="#333" stroke-width="0.3"/>
<text x="273.20" y="256.00" font-size="3.2" fill="#333" stroke="#333" stroke-width="0.12" text-anchor="middle" transform="rotate(-90 273.20 256.00)">UCCF-KRAS<tspan font-size="2.2" dy="-1.2">G12D</tspan></text>
<text x="272.80" y="283.50" font-size="2.7" fill="#333" stroke="#333" stroke-width="0.12" text-anchor="middle" transform="rotate(-90 272.80 283.50)">HuCCT1</text>
<line x1="276.40" y1="241.00" x2="276.40" y2="270.00" stroke="#999" stroke-width="0.3" stroke-dasharray="0.6 0.3"/>
<line x1="276.40" y1="273.00" x2="276.40" y2="295.00" stroke="#999" stroke-width="0.3" stroke-dasharray="0.6 0.3"/>
<text x="372.80" y="221.80" font-size="4.5" fill="#111" stroke="#111" stroke-width="0.12" font-weight="bold">O</text>
<rect x="383.75" y="223.10" width="5.60" height="2.70" fill="none" stroke="#222" stroke-width="0.45"/>
<text x="390.60" y="226.05" font-size="4.15" fill="#333" stroke="#333" stroke-width="0.12" textLength="9" lengthAdjust="spacingAndGlyphs">siNC</text>
<rect x="404.40" y="223.10" width="5.60" height="2.70" fill="none" stroke="#c84050" stroke-width="0.45"/>
<text x="411.25" y="225.81" font-size="3.48" fill="#333" stroke="#333" stroke-width="0.12" textLength="16" lengthAdjust="spacingAndGlyphs">sh-TFIP11</text>
<line x1="392.25" y1="235.00" x2="392.25" y2="294.40" stroke="#333" stroke-width="0.55"/>
<line x1="392.25" y1="294.40" x2="413.00" y2="294.40" stroke="#333" stroke-width="0.55"/>
<line x1="389.95" y1="235.60" x2="392.25" y2="235.60" stroke="#333" stroke-width="0.5"/>
<text x="388.75" y="236.85" font-size="3.3" fill="#333" stroke="#333" stroke-width="0.12" text-anchor="end">0.8</text>
<line x1="389.95" y1="250.30" x2="392.25" y2="250.30" stroke="#333" stroke-width="0.5"/>
<text x="388.75" y="251.55" font-size="3.3" fill="#333" stroke="#333" stroke-width="0.12" text-anchor="end">0.6</text>
<line x1="389.95" y1="265.00" x2="392.25" y2="265.00" stroke="#333" stroke-width="0.5"/>
<text x="388.75" y="266.25" font-size="3.3" fill="#333" stroke="#333" stroke-width="0.12" text-anchor="end">0.4</text>
<line x1="389.95" y1="279.70" x2="392.25" y2="279.70" stroke="#333" stroke-width="0.5"/>
<text x="388.75" y="280.95" font-size="3.3" fill="#333" stroke="#333" stroke-width="0.12" text-anchor="end">0.2</text>
<line x1="389.95" y1="294.40" x2="392.25" y2="294.40" stroke="#333" stroke-width="0.5"/>
<text x="388.75" y="295.65" font-size="3.3" fill="#333" stroke="#333" stroke-width="0.12" text-anchor="end">0.0</text>
<text x="403.40" y="232.60" font-size="3.75" fill="#333" stroke="#333" stroke-width="0.12" text-anchor="middle" textLength="21.5" lengthAdjust="spacingAndGlyphs"><tspan font-style="italic">P</tspan> = 3.32e-02</text>
<line x1="398.75" y1="234.40" x2="405.60" y2="234.40" stroke="#333" stroke-width="0.35"/>
<rect x="395.00" y="257.50" width="5.60" height="36.90" fill="#fff" stroke="#222" stroke-width="0.45"/>
<circle cx="397.80" cy="251.00" r="0.85" fill="#111"/>
<circle cx="397.80" cy="255.50" r="0.85" fill="#111"/>
<circle cx="397.80" cy="259.00" r="0.85" fill="#111"/>
<circle cx="397.80" cy="261.80" r="0.85" fill="#111"/>
<line x1="397.80" y1="252.00" x2="397.80" y2="262.00" stroke="#222" stroke-width="0.3"/>
<rect x="404.40" y="242.50" width="5.40" height="51.90" fill="#fff" stroke="#c84050" stroke-width="0.45"/>
<circle cx="405.60" cy="240.00" r="0.85" fill="#a02030"/>
<circle cx="408.60" cy="241.00" r="0.85" fill="#a02030"/>
<circle cx="407.10" cy="244.00" r="0.85" fill="#a02030"/>
<circle cx="407.20" cy="246.50" r="0.85" fill="#a02030"/>
<text x="374.20" y="265.00" font-size="3.27" fill="#333" stroke="#333" stroke-width="0.12" text-anchor="middle" textLength="38" lengthAdjust="spacingAndGlyphs" transform="rotate(-90 374.20 265.00)">PSI value of IL1RN_MX in</text>
<text x="379.40" y="265.00" font-size="3.2" fill="#333" stroke="#333" stroke-width="0.12" text-anchor="middle" transform="rotate(-90 379.40 265.00)">UCCF-KRAS<tspan font-size="2.2" dy="-1.2">G12D</tspan><tspan dy="1.2"> cells</tspan></text>
<line x1="449.10" y1="234.00" x2="449.10" y2="294.40" stroke="#333" stroke-width="0.55"/>
<line x1="449.10" y1="294.40" x2="471.25" y2="294.40" stroke="#333" stroke-width="0.55"/>
<line x1="446.80" y1="234.40" x2="449.10" y2="234.40" stroke="#333" stroke-width="0.5"/>
<text x="445.60" y="235.65" font-size="3.3" fill="#333" stroke="#333" stroke-width="0.12" text-anchor="end">1.0</text>
<line x1="446.80" y1="246.40" x2="449.10" y2="246.40" stroke="#333" stroke-width="0.5"/>
<text x="445.60" y="247.65" font-size="3.3" fill="#333" stroke="#333" stroke-width="0.12" text-anchor="end">0.8</text>
<line x1="446.80" y1="258.40" x2="449.10" y2="258.40" stroke="#333" stroke-width="0.5"/>
<text x="445.60" y="259.65" font-size="3.3" fill="#333" stroke="#333" stroke-width="0.12" text-anchor="end">0.6</text>
<line x1="446.80" y1="270.40" x2="449.10" y2="270.40" stroke="#333" stroke-width="0.5"/>
<text x="445.60" y="271.65" font-size="3.3" fill="#333" stroke="#333" stroke-width="0.12" text-anchor="end">0.4</text>
<line x1="446.80" y1="282.40" x2="449.10" y2="282.40" stroke="#333" stroke-width="0.5"/>
<text x="445.60" y="283.65" font-size="3.3" fill="#333" stroke="#333" stroke-width="0.12" text-anchor="end">0.2</text>
<line x1="446.80" y1="294.40" x2="449.10" y2="294.40" stroke="#333" stroke-width="0.5"/>
<text x="445.60" y="295.65" font-size="3.3" fill="#333" stroke="#333" stroke-width="0.12" text-anchor="end">0.0</text>
<text x="461.00" y="232.60" font-size="3.75" fill="#333" stroke="#333" stroke-width="0.12" text-anchor="middle" textLength="21.5" lengthAdjust="spacingAndGlyphs"><tspan font-style="italic">P</tspan> = 3.46e-02</text>
<line x1="456.25" y1="234.40" x2="465.00" y2="234.40" stroke="#333" stroke-width="0.35"/>
<rect x="453.10" y="265.25" width="5.60" height="29.15" fill="#fff" stroke="#222" stroke-width="0.45"/>
<circle cx="455.90" cy="262.25" r="0.85" fill="#111"/>
<circle cx="455.90" cy="263.75" r="0.85" fill="#111"/>
<circle cx="455.10" cy="265.75" r="0.85" fill="#111"/>
<circle cx="456.30" cy="266.75" r="0.85" fill="#111"/>
<rect x="462.25" y="251.90" width="5.50" height="42.50" fill="#fff" stroke="#c84050" stroke-width="0.45"/>
<circle cx="464.95" cy="246.40" r="0.85" fill="#a02030"/>
<circle cx="464.95" cy="250.40" r="0.85" fill="#a02030"/>
<circle cx="464.95" cy="256.90" r="0.85" fill="#a02030"/>
<line x1="465.00" y1="246.00" x2="465.00" y2="255.00" stroke="#c84050" stroke-width="0.3"/>
<text x="434.66" y="259.00" font-size="3.44" fill="#333" stroke="#333" stroke-width="0.12" text-anchor="middle" textLength="40" lengthAdjust="spacingAndGlyphs" transform="rotate(-90 434.66 259.00)">PSI value of IL1RN_MX in</text>
<text x="437.82" y="257.00" font-size="2.76" fill="#333" stroke="#333" stroke-width="0.12" text-anchor="middle" textLength="17" lengthAdjust="spacingAndGlyphs" transform="rotate(-90 437.82 257.00)">HuCCT1 cells</text>
<text x="269.80" y="306.30" font-size="4.5" fill="#111" stroke="#111" stroke-width="0.12" font-weight="bold">P</text>
<text x="276.25" y="310.13" font-size="4.1" fill="#333" stroke="#333" stroke-width="0.12" textLength="56" lengthAdjust="spacingAndGlyphs">Negative feedback mechanism</text>
<path d="M305.5,335 C304.85,320.74 334.87,307.44 345,317.5 C351.92,312.67 365.98,322.93 363.5,331 C371.09,332.31 373.37,347.51 366.5,351 C372.79,354.07 370.89,367.75 364,369 C364.58,375.27 353.18,380.21 349,375.5 C346.36,382.15 329.64,382.15 327,375.5 C319.13,377.73 303.55,360.63 306.5,353 C301.07,351.14 300.31,337.46 305.5,335 Z" fill="url(#cell)" stroke="#8a8ea2" stroke-width="0.5"/>
<ellipse cx="338" cy="346" rx="15" ry="12" fill="#c8dcf0" fill-opacity="0.45" filter="url(#bl)"/>
<ellipse cx="322" cy="330" rx="9" ry="6" fill="#e2e4ea" fill-opacity="0.6" filter="url(#bl)"/>
<circle cx="290.00" cy="325.00" r="13.00" fill="#eceef2" stroke="#9a9ea8" stroke-width="0.35" stroke-dasharray="0.8 0.5"/>
<text x="290.60" y="318.69" font-size="3.62" fill="#333" stroke="#333" stroke-width="0.12" text-anchor="middle" textLength="17.5" lengthAdjust="spacingAndGlyphs">IL1RN-201</text>
<text x="290.60" y="334.99" font-size="3.62" fill="#333" stroke="#333" stroke-width="0.12" text-anchor="middle" textLength="17.5" lengthAdjust="spacingAndGlyphs">IL1RN-203</text>
<line x1="278.00" y1="325.00" x2="302.50" y2="325.00" stroke="#333" stroke-width="0.35"/>
<rect x="278.00" y="324.20" width="4.00" height="1.60" fill="#111"/>
<rect x="283.60" y="324.20" width="5.20" height="1.60" fill="#2aa080"/>
<rect x="298.70" y="324.20" width="3.80" height="1.60" fill="#111"/>
<rect x="289.30" y="319.80" width="1.50" height="1.80" fill="#222"/>
<rect x="289.30" y="328.80" width="1.50" height="1.80" fill="#222"/>
<path d="M289,325 L294,322.5 L298.7,325" fill="none" stroke="#8a8a40" stroke-width="0.3"/>
<path d="M289,325 L294,327.3 L298.7,325" fill="none" stroke="#8a8a40" stroke-width="0.3"/>
<line x1="302.00" y1="318.00" x2="330.00" y2="319.00" stroke="#8a8e98" stroke-width="0.3" stroke-dasharray="0.6 0.4"/>
<path d="M293.5,339 C296,348 310,352.5 333.5,352.5" fill="none" stroke="#2a6ab0" stroke-width="0.7"/>
<line x1="333.60" y1="350.00" x2="333.60" y2="355.00" stroke="#2a6ab0" stroke-width="0.7"/>
<path d="M337.5,320.6 C332,320.3 327,321.4 323,322.8" fill="none" stroke="#2a6ab0" stroke-width="0.7"/>
<line x1="322.30" y1="320.20" x2="323.80" y2="325.60" stroke="#2a6ab0" stroke-width="0.7"/>
<ellipse cx="337.00" cy="326.25" rx="7.20" ry="1.90" fill="#dce8f8" stroke="#2a5aa0" stroke-width="0.45"/>
<text x="337.00" y="327.47" font-size="2.95" fill="#1a3a80" stroke="#1a3a80" stroke-width="0.12" text-anchor="middle" font-weight="bold" textLength="9.5" lengthAdjust="spacingAndGlyphs">TFIP11</text>
<line x1="336.60" y1="330.30" x2="336.60" y2="336.00" stroke="#2a6ab0" stroke-width="0.7"/>
<line x1="333.60" y1="330.30" x2="339.70" y2="330.30" stroke="#2a6ab0" stroke-width="0.7"/>
<circle cx="332.30" cy="337.00" r="1.60" fill="#2e7a3a"/>
<circle cx="331.90" cy="336.60" r="0.60" fill="#5ab060"/>
<circle cx="321.50" cy="340.00" r="1.60" fill="#2e7a3a"/>
<circle cx="321.10" cy="339.60" r="0.60" fill="#5ab060"/>
<circle cx="344.00" cy="340.00" r="1.60" fill="#2e7a3a"/>
<circle cx="343.60" cy="339.60" r="0.60" fill="#5ab060"/>
<ellipse cx="325.25" cy="345.30" rx="5.80" ry="1.90" fill="#e6d8f2" stroke="#9070c0" stroke-width="0.4"/>
<text x="325.25" y="346.20" font-size="2.3" fill="#5a3a90" stroke="#5a3a90" stroke-width="0.12" text-anchor="middle" font-weight="bold">P38</text>
<ellipse cx="335.70" cy="342.30" rx="4.80" ry="1.90" fill="#e6d8f2" stroke="#9070c0" stroke-width="0.4"/>
<text x="335.70" y="343.20" font-size="2.3" fill="#5a3a90" stroke="#5a3a90" stroke-width="0.12" text-anchor="middle" font-weight="bold">ERK</text>
<ellipse cx="347.60" cy="345.30" rx="5.00" ry="1.90" fill="#e6d8f2" stroke="#9070c0" stroke-width="0.4"/>
<text x="347.60" y="346.20" font-size="2.3" fill="#5a3a90" stroke="#5a3a90" stroke-width="0.12" text-anchor="middle" font-weight="bold">JNK</text>
<ellipse cx="336.5" cy="363" rx="6.8" ry="3" fill="#f09060" filter="url(#bl2)"/>
<circle cx="332.50" cy="361.00" r="1.50" fill="#f4a070"/>
<circle cx="335.00" cy="361.00" r="1.50" fill="#f4a070"/>
<circle cx="337.50" cy="361.00" r="1.50" fill="#f4a070"/>
<circle cx="340.00" cy="361.00" r="1.50" fill="#f4a070"/>
<line x1="337.20" y1="360.00" x2="337.20" y2="348.80" stroke="#d03030" stroke-width="0.8"/>
<path d="M335.6,349.5 L337.2,346.8 L338.8,349.5 Z" fill="#d03030" stroke="none" stroke-width="0"/>
<text x="336.00" y="370.50" font-size="2.6" fill="#333" stroke="#333" stroke-width="0.12" text-anchor="middle" font-weight="bold" textLength="11.5" lengthAdjust="spacingAndGlyphs">KRAS<tspan font-size="1.8" dy="-1">G12D</tspan></text>
<text x="362.00" y="374.81" font-size="3.21" fill="#333" stroke="#333" stroke-width="0.12" text-anchor="middle" textLength="7.5" lengthAdjust="spacingAndGlyphs">iCCA</text>
<path d="M354.5,342.3 C360,340.8 366,344 367.8,349" fill="none" stroke="#d83030" stroke-width="0.8"/>
<path d="M366.2,348.5 L368.4,351.5 L369.6,348 Z" fill="#d83030" stroke="none" stroke-width="0"/>
<circle cx="369.50" cy="352.50" r="0.90" fill="#fff" stroke="#aab" stroke-width="0.2"/>
<circle cx="382.50" cy="324.40" r="12.80" fill="url(#neu)" stroke="#e6b070" stroke-width="0.4"/>
<text x="383.20" y="309.72" font-size="4.06" fill="#e89a50" stroke="#e89a50" stroke-width="0.12" text-anchor="middle" textLength="18.5" lengthAdjust="spacingAndGlyphs">Neutrophil</text>
<text x="385.00" y="340.74" font-size="4.13" fill="#5060a8" stroke="#5060a8" stroke-width="0.12" textLength="14" lengthAdjust="spacingAndGlyphs">CXCR2</text>
<text x="377.50" y="357.12" font-size="3.51" fill="#6a6a90" stroke="#6a6a90" stroke-width="0.12" textLength="11.3" lengthAdjust="spacingAndGlyphs">CXCL8</text>
<circle cx="373.50" cy="343.00" r="0.75" fill="#f0f0f4" stroke="#8a8ea8" stroke-width="0.3"/>
<circle cx="373.50" cy="347.50" r="0.75" fill="#f0f0f4" stroke="#8a8ea8" stroke-width="0.3"/>
<circle cx="373.50" cy="352.50" r="0.75" fill="#f0f0f4" stroke="#8a8ea8" stroke-width="0.3"/>
<circle cx="380.00" cy="344.00" r="0.75" fill="#f0f0f4" stroke="#8a8ea8" stroke-width="0.3"/>
<circle cx="380.00" cy="348.00" r="0.75" fill="#f0f0f4" stroke="#8a8ea8" stroke-width="0.3"/>
<circle cx="387.00" cy="341.50" r="0.75" fill="#f0f0f4" stroke="#8a8ea8" stroke-width="0.3"/>
<circle cx="376.50" cy="339.50" r="0.75" fill="#f0f0f4" stroke="#8a8ea8" stroke-width="0.3"/>
<line x1="383.00" y1="338.00" x2="383.00" y2="340.50" stroke="#6a70b0" stroke-width="0.4"/>
<line x1="388.00" y1="336.50" x2="388.00" y2="339.00" stroke="#6a70b0" stroke-width="0.4"/>
<line x1="393.00" y1="338.00" x2="393.00" y2="340.50" stroke="#6a70b0" stroke-width="0.4"/>
<line x1="281.25" y1="370.30" x2="288.10" y2="370.30" stroke="#e04030" stroke-width="0.6"/>
<text x="290.60" y="371.55" font-size="3.6" fill="#333" stroke="#333" stroke-width="0.12" textLength="15.6" lengthAdjust="spacingAndGlyphs">Activation</text>
<line x1="281.25" y1="374.60" x2="288.50" y2="374.60" stroke="#2a6ab0" stroke-width="0.6"/>
<line x1="288.50" y1="373.40" x2="288.50" y2="375.80" stroke="#2a6ab0" stroke-width="0.5"/>
<text x="290.60" y="375.90" font-size="3.75" fill="#333" stroke="#333" stroke-width="0.12" textLength="15" lengthAdjust="spacingAndGlyphs">Inhibition</text>
</svg>
</body></html>
